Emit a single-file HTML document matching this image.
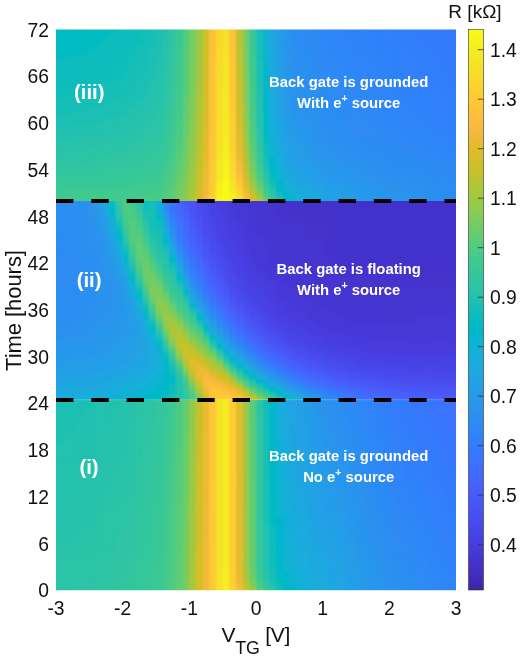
<!DOCTYPE html><html><head><meta charset="utf-8"><title>Figure</title><style>html,body{margin:0;padding:0;background:#fff}body{width:520px;height:658px;overflow:hidden}</style></head><body><svg width="520" height="658" viewBox="0 0 520 658" style="display:block"><defs><linearGradient id="g0" gradientUnits="userSpaceOnUse" x1="0" y1="29.5" x2="0" y2="590.0"><stop offset="0" stop-color="#02bac4"/><stop offset=".0997" stop-color="#0bbdbc"/><stop offset=".1905" stop-color="#23c1af"/><stop offset=".2546" stop-color="#31c69f"/><stop offset=".2795" stop-color="#38c897"/><stop offset=".3062" stop-color="#43ca8a"/><stop offset=".3062" stop-color="#2c8ef2"/><stop offset=".4415" stop-color="#2d8bf3"/><stop offset=".5305" stop-color="#2c8ff0"/><stop offset=".5768" stop-color="#2896ec"/><stop offset=".6195" stop-color="#23a0e5"/><stop offset=".6444" stop-color="#1ca9df"/><stop offset=".6604" stop-color="#14b0d8"/><stop offset=".6604" stop-color="#1cc0b3"/><stop offset="1" stop-color="#2cc4a7"/></linearGradient><linearGradient id="g1" gradientUnits="userSpaceOnUse" x1="0" y1="29.5" x2="0" y2="590.0"><stop offset="0" stop-color="#02bac4"/><stop offset=".0961" stop-color="#0bbdbc"/><stop offset=".1905" stop-color="#23c1af"/><stop offset=".2546" stop-color="#32c69f"/><stop offset=".2778" stop-color="#37c897"/><stop offset=".3062" stop-color="#43ca8a"/><stop offset=".3062" stop-color="#2c8ef1"/><stop offset=".4415" stop-color="#2d8cf3"/><stop offset=".5305" stop-color="#2c90f0"/><stop offset=".575" stop-color="#2896eb"/><stop offset=".6177" stop-color="#23a0e5"/><stop offset=".6444" stop-color="#1ca9df"/><stop offset=".6604" stop-color="#14b0d8"/><stop offset=".6604" stop-color="#1dc0b3"/><stop offset="1" stop-color="#2cc4a7"/></linearGradient><linearGradient id="g2" gradientUnits="userSpaceOnUse" x1="0" y1="29.5" x2="0" y2="590.0"><stop offset="0" stop-color="#02bac4"/><stop offset=".0926" stop-color="#0bbdbd"/><stop offset=".1905" stop-color="#24c1af"/><stop offset=".2528" stop-color="#31c6a0"/><stop offset=".2778" stop-color="#37c897"/><stop offset=".3062" stop-color="#44ca8a"/><stop offset=".3062" stop-color="#2c8ff1"/><stop offset=".4397" stop-color="#2d8cf3"/><stop offset=".5287" stop-color="#2c90f0"/><stop offset=".5732" stop-color="#2896eb"/><stop offset=".6159" stop-color="#23a0e5"/><stop offset=".6426" stop-color="#1ca9df"/><stop offset=".6604" stop-color="#13b0d7"/><stop offset=".6604" stop-color="#1dc0b3"/><stop offset="1" stop-color="#2cc4a6"/></linearGradient><linearGradient id="g3" gradientUnits="userSpaceOnUse" x1="0" y1="29.5" x2="0" y2="590.0"><stop offset="0" stop-color="#02bac3"/><stop offset=".089" stop-color="#0bbdbd"/><stop offset=".1887" stop-color="#24c1af"/><stop offset=".2528" stop-color="#31c69f"/><stop offset=".2778" stop-color="#37c897"/><stop offset=".3062" stop-color="#44cb8a"/><stop offset=".3062" stop-color="#2c90f0"/><stop offset=".4397" stop-color="#2d8df2"/><stop offset=".5287" stop-color="#2b91ef"/><stop offset=".5768" stop-color="#2797eb"/><stop offset=".6159" stop-color="#23a0e5"/><stop offset=".6444" stop-color="#1baade"/><stop offset=".6604" stop-color="#12b1d7"/><stop offset=".6604" stop-color="#1ec0b2"/><stop offset="1" stop-color="#2dc4a6"/></linearGradient><linearGradient id="g4" gradientUnits="userSpaceOnUse" x1="0" y1="29.5" x2="0" y2="590.0"><stop offset="0" stop-color="#02bbc3"/><stop offset=".0855" stop-color="#0bbdbc"/><stop offset=".1887" stop-color="#24c1ae"/><stop offset=".2528" stop-color="#32c69f"/><stop offset=".2778" stop-color="#38c896"/><stop offset=".3062" stop-color="#44cb8a"/><stop offset=".3062" stop-color="#2b91ef"/><stop offset=".4344" stop-color="#2c8ef2"/><stop offset=".5269" stop-color="#2b91ef"/><stop offset=".575" stop-color="#2797ea"/><stop offset=".6141" stop-color="#23a0e5"/><stop offset=".6444" stop-color="#1babde"/><stop offset=".6604" stop-color="#12b1d6"/><stop offset=".6604" stop-color="#1fc0b2"/><stop offset="1" stop-color="#2dc4a5"/></linearGradient><linearGradient id="g5" gradientUnits="userSpaceOnUse" x1="0" y1="29.5" x2="0" y2="590.0"><stop offset="0" stop-color="#03bbc2"/><stop offset=".0819" stop-color="#0bbdbc"/><stop offset=".187" stop-color="#24c1ae"/><stop offset=".2511" stop-color="#31c69f"/><stop offset=".276" stop-color="#37c897"/><stop offset=".3062" stop-color="#44cb89"/><stop offset=".3062" stop-color="#2994ec"/><stop offset=".4166" stop-color="#2c8ff1"/><stop offset=".5234" stop-color="#2b91ef"/><stop offset=".5714" stop-color="#2797ea"/><stop offset=".6124" stop-color="#23a0e5"/><stop offset=".6462" stop-color="#1aacdd"/><stop offset=".6604" stop-color="#10b2d5"/><stop offset=".6604" stop-color="#1fc0b1"/><stop offset="1" stop-color="#2dc4a5"/></linearGradient><linearGradient id="g6" gradientUnits="userSpaceOnUse" x1="0" y1="29.5" x2="0" y2="590.0"><stop offset="0" stop-color="#04bbc2"/><stop offset=".0748" stop-color="#0bbdbc"/><stop offset=".1852" stop-color="#24c1ae"/><stop offset=".2511" stop-color="#32c69f"/><stop offset=".276" stop-color="#37c897"/><stop offset=".3062" stop-color="#44cb89"/><stop offset=".3062" stop-color="#259ce7"/><stop offset=".3917" stop-color="#2b91ef"/><stop offset=".5091" stop-color="#2b91ef"/><stop offset=".5643" stop-color="#2797eb"/><stop offset=".6088" stop-color="#23a0e5"/><stop offset=".648" stop-color="#18addb"/><stop offset=".6604" stop-color="#0fb2d5"/><stop offset=".6604" stop-color="#20c1b1"/><stop offset="1" stop-color="#2ec4a4"/></linearGradient><linearGradient id="g7" gradientUnits="userSpaceOnUse" x1="0" y1="29.5" x2="0" y2="590.0"><stop offset="0" stop-color="#05bbc1"/><stop offset=".0748" stop-color="#0dbdbc"/><stop offset=".1852" stop-color="#25c2ae"/><stop offset=".2742" stop-color="#37c897"/><stop offset=".3062" stop-color="#44cb8a"/><stop offset=".3062" stop-color="#1aacdd"/><stop offset=".3401" stop-color="#23a0e5"/><stop offset=".3846" stop-color="#2896ec"/><stop offset=".4771" stop-color="#2b91ef"/><stop offset=".5465" stop-color="#2895ec"/><stop offset=".6052" stop-color="#23a0e5"/><stop offset=".6462" stop-color="#18addb"/><stop offset=".6604" stop-color="#0db3d4"/><stop offset=".6604" stop-color="#22c1b0"/><stop offset="1" stop-color="#2fc5a3"/></linearGradient><linearGradient id="g8" gradientUnits="userSpaceOnUse" x1="0" y1="29.5" x2="0" y2="590.0"><stop offset="0" stop-color="#06bcc0"/><stop offset=".0748" stop-color="#0ebdbb"/><stop offset=".187" stop-color="#26c2ad"/><stop offset=".2742" stop-color="#37c897"/><stop offset=".3062" stop-color="#44cb8a"/><stop offset=".3062" stop-color="#0abdbd"/><stop offset=".3134" stop-color="#02bbc3"/><stop offset=".3223" stop-color="#01b8c9"/><stop offset=".3436" stop-color="#14b0d8"/><stop offset=".3596" stop-color="#1ca9df"/><stop offset=".4006" stop-color="#269be8"/><stop offset=".4415" stop-color="#2994ed"/><stop offset=".5252" stop-color="#2995ec"/><stop offset=".6017" stop-color="#23a0e5"/><stop offset=".6444" stop-color="#18addb"/><stop offset=".6604" stop-color="#0bb3d2"/><stop offset=".6604" stop-color="#23c1af"/><stop offset="1" stop-color="#2fc5a2"/></linearGradient><linearGradient id="g9" gradientUnits="userSpaceOnUse" x1="0" y1="29.5" x2="0" y2="590.0"><stop offset="0" stop-color="#07bcbf"/><stop offset=".0748" stop-color="#0fbeba"/><stop offset=".187" stop-color="#26c2ac"/><stop offset=".2724" stop-color="#37c897"/><stop offset=".3062" stop-color="#44cb8a"/><stop offset=".3062" stop-color="#38c896"/><stop offset=".3294" stop-color="#2cc4a7"/><stop offset=".3383" stop-color="#24c1af"/><stop offset=".3614" stop-color="#02bac3"/><stop offset=".3685" stop-color="#01b8ca"/><stop offset=".3846" stop-color="#12b1d6"/><stop offset=".4006" stop-color="#1ca9df"/><stop offset=".4219" stop-color="#23a0e5"/><stop offset=".4433" stop-color="#269ae9"/><stop offset=".4735" stop-color="#2895ec"/><stop offset=".5109" stop-color="#2895ec"/><stop offset=".5963" stop-color="#23a0e5"/><stop offset=".6408" stop-color="#19addc"/><stop offset=".6515" stop-color="#12b1d7"/><stop offset=".6604" stop-color="#09b4d1"/><stop offset=".6604" stop-color="#24c1ae"/><stop offset="1" stop-color="#30c5a2"/></linearGradient><linearGradient id="g10" gradientUnits="userSpaceOnUse" x1="0" y1="29.5" x2="0" y2="590.0"><stop offset="0" stop-color="#08bcbf"/><stop offset=".0748" stop-color="#11beba"/><stop offset=".187" stop-color="#27c2ac"/><stop offset=".2724" stop-color="#37c897"/><stop offset=".3062" stop-color="#44cb8a"/><stop offset=".3062" stop-color="#4dcc82"/><stop offset=".3223" stop-color="#4ecc81"/><stop offset=".3383" stop-color="#47cb87"/><stop offset=".3543" stop-color="#3bc992"/><stop offset=".3757" stop-color="#2cc4a7"/><stop offset=".3828" stop-color="#24c1ae"/><stop offset=".397" stop-color="#0abdbd"/><stop offset=".4041" stop-color="#02bac5"/><stop offset=".4095" stop-color="#01b7ca"/><stop offset=".4291" stop-color="#18aedb"/><stop offset=".4486" stop-color="#20a4e3"/><stop offset=".4753" stop-color="#259be8"/><stop offset=".5056" stop-color="#2798ea"/><stop offset=".5465" stop-color="#269ae9"/><stop offset=".591" stop-color="#23a0e5"/><stop offset=".6391" stop-color="#18addb"/><stop offset=".6497" stop-color="#12b1d6"/><stop offset=".6604" stop-color="#07b5cf"/><stop offset=".6604" stop-color="#25c2ad"/><stop offset="1" stop-color="#31c5a1"/></linearGradient><linearGradient id="g11" gradientUnits="userSpaceOnUse" x1="0" y1="29.5" x2="0" y2="590.0"><stop offset="0" stop-color="#0bbdbd"/><stop offset=".1033" stop-color="#19bfb5"/><stop offset=".1887" stop-color="#29c3aa"/><stop offset=".2689" stop-color="#37c897"/><stop offset=".3062" stop-color="#46cb88"/><stop offset=".3062" stop-color="#3eca8f"/><stop offset=".349" stop-color="#56cc7b"/><stop offset=".3614" stop-color="#58cc7a"/><stop offset=".3739" stop-color="#54cc7d"/><stop offset=".3917" stop-color="#43ca8a"/><stop offset=".4166" stop-color="#2bc3a8"/><stop offset=".4219" stop-color="#24c1ae"/><stop offset=".4344" stop-color="#0abdbe"/><stop offset=".4397" stop-color="#02bac4"/><stop offset=".4451" stop-color="#01b8ca"/><stop offset=".4646" stop-color="#19addc"/><stop offset=".4878" stop-color="#22a2e4"/><stop offset=".5091" stop-color="#259ce7"/><stop offset=".5341" stop-color="#259be8"/><stop offset=".6017" stop-color="#20a4e3"/><stop offset=".6355" stop-color="#18aedb"/><stop offset=".6462" stop-color="#12b1d6"/><stop offset=".6604" stop-color="#05b6cd"/><stop offset=".6604" stop-color="#27c2ab"/><stop offset="1" stop-color="#32c69e"/></linearGradient><linearGradient id="g12" gradientUnits="userSpaceOnUse" x1="0" y1="29.5" x2="0" y2="590.0"><stop offset="0" stop-color="#0ebdbb"/><stop offset=".1051" stop-color="#1cc0b4"/><stop offset=".1905" stop-color="#2bc3a8"/><stop offset=".2635" stop-color="#37c897"/><stop offset=".3062" stop-color="#47cb87"/><stop offset=".3062" stop-color="#29c3aa"/><stop offset=".3436" stop-color="#3fca8e"/><stop offset=".3685" stop-color="#54cc7c"/><stop offset=".3863" stop-color="#5fcd73"/><stop offset=".4006" stop-color="#62cd71"/><stop offset=".4113" stop-color="#5dcc75"/><stop offset=".4219" stop-color="#52cc7e"/><stop offset=".4362" stop-color="#3dc990"/><stop offset=".4522" stop-color="#2bc3a8"/><stop offset=".4575" stop-color="#23c1af"/><stop offset=".4718" stop-color="#02bbc3"/><stop offset=".4771" stop-color="#01b8ca"/><stop offset=".4913" stop-color="#14b0d8"/><stop offset=".5038" stop-color="#1ca9df"/><stop offset=".5234" stop-color="#22a2e4"/><stop offset=".543" stop-color="#239fe5"/><stop offset=".6017" stop-color="#1fa6e1"/><stop offset=".6302" stop-color="#18aedb"/><stop offset=".6604" stop-color="#02b7cb"/><stop offset=".6604" stop-color="#29c3a9"/><stop offset="1" stop-color="#34c79c"/></linearGradient><linearGradient id="g13" gradientUnits="userSpaceOnUse" x1="0" y1="29.5" x2="0" y2="590.0"><stop offset="0" stop-color="#11beb9"/><stop offset=".1051" stop-color="#1ec0b2"/><stop offset=".1887" stop-color="#2cc4a7"/><stop offset=".26" stop-color="#37c897"/><stop offset=".2867" stop-color="#3fca8e"/><stop offset=".3062" stop-color="#49cb86"/><stop offset=".3062" stop-color="#0cbdbc"/><stop offset=".3205" stop-color="#12beb9"/><stop offset=".3383" stop-color="#22c1b0"/><stop offset=".3757" stop-color="#3fca8e"/><stop offset=".4059" stop-color="#5fcd73"/><stop offset=".4219" stop-color="#6bcd69"/><stop offset=".4326" stop-color="#6ecd66"/><stop offset=".4433" stop-color="#69cd6a"/><stop offset=".454" stop-color="#5ccc76"/><stop offset=".47" stop-color="#3eca8f"/><stop offset=".4878" stop-color="#25c2ad"/><stop offset=".502" stop-color="#02bbc3"/><stop offset=".5074" stop-color="#01b8ca"/><stop offset=".5198" stop-color="#12b1d7"/><stop offset=".5323" stop-color="#1babde"/><stop offset=".5625" stop-color="#20a4e3"/><stop offset=".6052" stop-color="#1ca9df"/><stop offset=".6319" stop-color="#14b0d8"/><stop offset=".6604" stop-color="#01b8c8"/><stop offset=".6604" stop-color="#2cc4a7"/><stop offset="1" stop-color="#35c79a"/></linearGradient><linearGradient id="g14" gradientUnits="userSpaceOnUse" x1="0" y1="29.5" x2="0" y2="590.0"><stop offset="0" stop-color="#16bfb7"/><stop offset=".1051" stop-color="#22c1b0"/><stop offset=".1852" stop-color="#2dc4a6"/><stop offset=".2546" stop-color="#37c897"/><stop offset=".2831" stop-color="#3fca8e"/><stop offset=".3062" stop-color="#4acb85"/><stop offset=".3062" stop-color="#10beba"/><stop offset=".3205" stop-color="#15bfb7"/><stop offset=".3525" stop-color="#18bfb6"/><stop offset=".3721" stop-color="#23c1af"/><stop offset=".3863" stop-color="#2ec5a4"/><stop offset=".4041" stop-color="#3eca8f"/><stop offset=".438" stop-color="#6bcd69"/><stop offset=".4522" stop-color="#79cc5f"/><stop offset=".4629" stop-color="#7dcc5b"/><stop offset=".4718" stop-color="#78cc5f"/><stop offset=".4807" stop-color="#6bcd69"/><stop offset=".5002" stop-color="#3fca8e"/><stop offset=".5163" stop-color="#26c2ad"/><stop offset=".5305" stop-color="#02bbc3"/><stop offset=".5358" stop-color="#01b8ca"/><stop offset=".5519" stop-color="#14b0d8"/><stop offset=".5625" stop-color="#19acdc"/><stop offset=".5803" stop-color="#1caadf"/><stop offset=".607" stop-color="#19addc"/><stop offset=".623" stop-color="#14b0d8"/><stop offset=".6515" stop-color="#02b7ca"/><stop offset=".6604" stop-color="#02bac5"/><stop offset=".6604" stop-color="#2ec4a4"/><stop offset="1" stop-color="#38c896"/></linearGradient><linearGradient id="g15" gradientUnits="userSpaceOnUse" x1="0" y1="29.5" x2="0" y2="590.0"><stop offset="0" stop-color="#1ac0b5"/><stop offset=".1015" stop-color="#24c2ae"/><stop offset=".187" stop-color="#2ec5a4"/><stop offset=".2511" stop-color="#38c896"/><stop offset=".2795" stop-color="#3fca8e"/><stop offset=".3062" stop-color="#4bcb84"/><stop offset=".3062" stop-color="#1da8e0"/><stop offset=".3134" stop-color="#18addb"/><stop offset=".3294" stop-color="#03b7cb"/><stop offset=".3365" stop-color="#02bac5"/><stop offset=".3596" stop-color="#19bfb5"/><stop offset=".4059" stop-color="#29c3aa"/><stop offset=".4166" stop-color="#30c5a1"/><stop offset=".4273" stop-color="#39c995"/><stop offset=".4557" stop-color="#69cd6b"/><stop offset=".4682" stop-color="#7ccc5c"/><stop offset=".4789" stop-color="#87cb54"/><stop offset=".4878" stop-color="#8dcb50"/><stop offset=".4967" stop-color="#89cb52"/><stop offset=".5056" stop-color="#7ccc5c"/><stop offset=".5145" stop-color="#66cd6d"/><stop offset=".5287" stop-color="#3fca8e"/><stop offset=".543" stop-color="#27c2ac"/><stop offset=".5536" stop-color="#0abdbd"/><stop offset=".559" stop-color="#02bac4"/><stop offset=".5643" stop-color="#01b8ca"/><stop offset=".5785" stop-color="#0eb2d4"/><stop offset=".5874" stop-color="#13b1d7"/><stop offset=".5999" stop-color="#14b0d8"/><stop offset=".6141" stop-color="#11b1d6"/><stop offset=".6444" stop-color="#01b8ca"/><stop offset=".6551" stop-color="#02bac4"/><stop offset=".6604" stop-color="#06bcc0"/><stop offset=".6604" stop-color="#30c5a1"/><stop offset="1" stop-color="#3bc992"/></linearGradient><linearGradient id="g16" gradientUnits="userSpaceOnUse" x1="0" y1="29.5" x2="0" y2="590.0"><stop offset="0" stop-color="#23c1af"/><stop offset=".1211" stop-color="#2dc4a6"/><stop offset=".2172" stop-color="#37c897"/><stop offset=".2546" stop-color="#3fca8e"/><stop offset=".3062" stop-color="#56cc7b"/><stop offset=".3062" stop-color="#2e85f8"/><stop offset=".3258" stop-color="#2b91ef"/><stop offset=".3454" stop-color="#22a1e4"/><stop offset=".3596" stop-color="#18aedb"/><stop offset=".3739" stop-color="#01b8ca"/><stop offset=".3792" stop-color="#02bac4"/><stop offset=".3935" stop-color="#19bfb6"/><stop offset=".4024" stop-color="#21c1b0"/><stop offset=".4344" stop-color="#2ec4a4"/><stop offset=".4504" stop-color="#38c896"/><stop offset=".4575" stop-color="#42ca8b"/><stop offset=".4789" stop-color="#70cd65"/><stop offset=".4913" stop-color="#87cb54"/><stop offset=".502" stop-color="#95ca49"/><stop offset=".5127" stop-color="#9dc943"/><stop offset=".5198" stop-color="#9bc945"/><stop offset=".5287" stop-color="#8ecb4f"/><stop offset=".5394" stop-color="#70cd65"/><stop offset=".5554" stop-color="#3dca90"/><stop offset=".5697" stop-color="#25c2ad"/><stop offset=".5803" stop-color="#0bbdbd"/><stop offset=".5857" stop-color="#03bbc3"/><stop offset=".5999" stop-color="#03b7cc"/><stop offset=".6159" stop-color="#05b6ce"/><stop offset=".6319" stop-color="#01b8ca"/><stop offset=".6462" stop-color="#02bac3"/><stop offset=".6604" stop-color="#0fbebb"/><stop offset=".6604" stop-color="#35c79a"/><stop offset="1" stop-color="#43ca8b"/></linearGradient><linearGradient id="g17" gradientUnits="userSpaceOnUse" x1="0" y1="29.5" x2="0" y2="590.0"><stop offset="0" stop-color="#2ec4a4"/><stop offset=".1157" stop-color="#34c79c"/><stop offset=".2065" stop-color="#3fca8e"/><stop offset=".2511" stop-color="#4bcb84"/><stop offset=".3062" stop-color="#63cd70"/><stop offset=".3062" stop-color="#3c71ff"/><stop offset=".3312" stop-color="#327cfc"/><stop offset=".3507" stop-color="#2e86f7"/><stop offset=".3668" stop-color="#2b91ef"/><stop offset=".3846" stop-color="#23a1e5"/><stop offset=".397" stop-color="#19addc"/><stop offset=".4095" stop-color="#02b7cb"/><stop offset=".413" stop-color="#01bac5"/><stop offset=".4148" stop-color="#03bbc3"/><stop offset=".4255" stop-color="#1ac0b5"/><stop offset=".4326" stop-color="#25c2ae"/><stop offset=".4415" stop-color="#2cc4a7"/><stop offset=".4646" stop-color="#35c79b"/><stop offset=".4771" stop-color="#40ca8d"/><stop offset=".4824" stop-color="#4acb84"/><stop offset=".4931" stop-color="#64cd6e"/><stop offset=".5109" stop-color="#90ca4d"/><stop offset=".5234" stop-color="#a4c83e"/><stop offset=".5341" stop-color="#aec637"/><stop offset=".543" stop-color="#abc739"/><stop offset=".5501" stop-color="#a0c841"/><stop offset=".5608" stop-color="#82cc58"/><stop offset=".575" stop-color="#4dcc82"/><stop offset=".5803" stop-color="#3dca90"/><stop offset=".5946" stop-color="#27c2ac"/><stop offset=".6106" stop-color="#0bbdbc"/><stop offset=".623" stop-color="#05bbc1"/><stop offset=".6355" stop-color="#07bcc0"/><stop offset=".6444" stop-color="#0bbdbd"/><stop offset=".6604" stop-color="#1bc0b4"/><stop offset=".6604" stop-color="#3dc990"/><stop offset="1" stop-color="#50cc80"/></linearGradient><linearGradient id="g18" gradientUnits="userSpaceOnUse" x1="0" y1="29.5" x2="0" y2="590.0"><stop offset="0" stop-color="#37c897"/><stop offset=".1086" stop-color="#3fca8e"/><stop offset=".1763" stop-color="#4acb84"/><stop offset=".2528" stop-color="#61cd72"/><stop offset=".3062" stop-color="#7acc5d"/><stop offset=".3062" stop-color="#4563fd"/><stop offset=".3329" stop-color="#406cfe"/><stop offset=".3543" stop-color="#3975fe"/><stop offset=".3685" stop-color="#327cfc"/><stop offset=".3863" stop-color="#2e86f7"/><stop offset=".4006" stop-color="#2b91ef"/><stop offset=".4202" stop-color="#21a3e3"/><stop offset=".4308" stop-color="#17aeda"/><stop offset=".4397" stop-color="#03b7cc"/><stop offset=".4433" stop-color="#01b9c6"/><stop offset=".4486" stop-color="#0bbdbc"/><stop offset=".4575" stop-color="#24c1af"/><stop offset=".4629" stop-color="#2bc3a8"/><stop offset=".4913" stop-color="#3eca8f"/><stop offset=".5002" stop-color="#4acb85"/><stop offset=".5091" stop-color="#5ecd74"/><stop offset=".5234" stop-color="#89cb52"/><stop offset=".5323" stop-color="#9fc941"/><stop offset=".5447" stop-color="#b5c533"/><stop offset=".5554" stop-color="#bfc32d"/><stop offset=".5643" stop-color="#bcc42f"/><stop offset=".5732" stop-color="#abc739"/><stop offset=".5821" stop-color="#8fcb4e"/><stop offset=".5999" stop-color="#4bcb84"/><stop offset=".6035" stop-color="#40ca8d"/><stop offset=".6088" stop-color="#36c898"/><stop offset=".6195" stop-color="#2bc3a8"/><stop offset=".6319" stop-color="#21c1b0"/><stop offset=".6444" stop-color="#20c1b1"/><stop offset=".6604" stop-color="#28c3ab"/><stop offset=".6604" stop-color="#4ccb83"/><stop offset="1" stop-color="#62cd71"/></linearGradient><linearGradient id="g19" gradientUnits="userSpaceOnUse" x1="0" y1="29.5" x2="0" y2="590.0"><stop offset="0" stop-color="#4ecc81"/><stop offset=".0961" stop-color="#57cc7a"/><stop offset=".1781" stop-color="#64cd6f"/><stop offset=".2404" stop-color="#75cc61"/><stop offset=".3062" stop-color="#90ca4d"/><stop offset=".3062" stop-color="#4759f8"/><stop offset=".3614" stop-color="#4269fe"/><stop offset=".3881" stop-color="#3875fe"/><stop offset=".4095" stop-color="#2f82fa"/><stop offset=".4308" stop-color="#2b91ef"/><stop offset=".4468" stop-color="#23a1e5"/><stop offset=".4575" stop-color="#19addc"/><stop offset=".4664" stop-color="#04b6cd"/><stop offset=".47" stop-color="#01b9c6"/><stop offset=".4718" stop-color="#03bbc2"/><stop offset=".4807" stop-color="#21c1b1"/><stop offset=".486" stop-color="#2cc4a7"/><stop offset=".4985" stop-color="#39c895"/><stop offset=".5127" stop-color="#49cb85"/><stop offset=".5234" stop-color="#5bcc77"/><stop offset=".5305" stop-color="#6dcd68"/><stop offset=".5447" stop-color="#9bc944"/><stop offset=".5519" stop-color="#aec637"/><stop offset=".5643" stop-color="#c6c22a"/><stop offset=".5768" stop-color="#d1bf27"/><stop offset=".5821" stop-color="#cfc028"/><stop offset=".5874" stop-color="#c8c129"/><stop offset=".5963" stop-color="#b2c635"/><stop offset=".6017" stop-color="#9fc941"/><stop offset=".6159" stop-color="#66cd6d"/><stop offset=".623" stop-color="#4fcc81"/><stop offset=".6284" stop-color="#42ca8c"/><stop offset=".6355" stop-color="#38c896"/><stop offset=".6426" stop-color="#34c79c"/><stop offset=".6515" stop-color="#32c69e"/><stop offset=".6604" stop-color="#33c69d"/><stop offset=".6604" stop-color="#61cd71"/><stop offset="1" stop-color="#79cc5e"/></linearGradient><linearGradient id="g20" gradientUnits="userSpaceOnUse" x1="0" y1="29.5" x2="0" y2="590.0"><stop offset="0" stop-color="#73cd63"/><stop offset=".0926" stop-color="#7bcc5c"/><stop offset=".1745" stop-color="#88cb53"/><stop offset=".2439" stop-color="#98ca47"/><stop offset=".3062" stop-color="#acc738"/><stop offset=".3062" stop-color="#4851f3"/><stop offset=".3543" stop-color="#475bf9"/><stop offset=".3917" stop-color="#4368fe"/><stop offset=".4059" stop-color="#3e6fff"/><stop offset=".4273" stop-color="#327cfc"/><stop offset=".4433" stop-color="#2e87f7"/><stop offset=".4557" stop-color="#2b91ef"/><stop offset=".4718" stop-color="#23a1e5"/><stop offset=".4824" stop-color="#18addb"/><stop offset=".4913" stop-color="#02b7cb"/><stop offset=".4949" stop-color="#02bac3"/><stop offset=".5038" stop-color="#24c1af"/><stop offset=".5074" stop-color="#2cc4a7"/><stop offset=".5216" stop-color="#43ca8a"/><stop offset=".5447" stop-color="#6fcd66"/><stop offset=".5519" stop-color="#83cc57"/><stop offset=".5625" stop-color="#a8c73b"/><stop offset=".5679" stop-color="#b8c431"/><stop offset=".5732" stop-color="#c5c22a"/><stop offset=".5821" stop-color="#d5be28"/><stop offset=".591" stop-color="#dfbc2a"/><stop offset=".5963" stop-color="#e1bc2b"/><stop offset=".6052" stop-color="#d9bd28"/><stop offset=".6141" stop-color="#c5c22a"/><stop offset=".6213" stop-color="#adc638"/><stop offset=".6355" stop-color="#76cc60"/><stop offset=".6408" stop-color="#66cd6e"/><stop offset=".6497" stop-color="#53cc7d"/><stop offset=".6604" stop-color="#49cb85"/><stop offset=".6604" stop-color="#91ca4c"/><stop offset="1" stop-color="#a9c73a"/></linearGradient><linearGradient id="g21" gradientUnits="userSpaceOnUse" x1="0" y1="29.5" x2="0" y2="590.0"><stop offset="0" stop-color="#9bc944"/><stop offset=".0908" stop-color="#a4c83e"/><stop offset=".1691" stop-color="#b1c635"/><stop offset=".2511" stop-color="#c6c22a"/><stop offset=".3062" stop-color="#d8be28"/><stop offset=".3062" stop-color="#484aee"/><stop offset=".3632" stop-color="#4755f6"/><stop offset=".4077" stop-color="#4563fc"/><stop offset=".4273" stop-color="#406cfe"/><stop offset=".4433" stop-color="#3776fe"/><stop offset=".4522" stop-color="#327dfc"/><stop offset=".4664" stop-color="#2d87f6"/><stop offset=".4771" stop-color="#2b91ef"/><stop offset=".4931" stop-color="#23a0e5"/><stop offset=".5038" stop-color="#19addc"/><stop offset=".5127" stop-color="#02b7cb"/><stop offset=".5145" stop-color="#01b9c7"/><stop offset=".5163" stop-color="#02bbc3"/><stop offset=".518" stop-color="#09bcbe"/><stop offset=".5252" stop-color="#27c2ac"/><stop offset=".5358" stop-color="#3eca8f"/><stop offset=".5447" stop-color="#58cc79"/><stop offset=".5661" stop-color="#8acb51"/><stop offset=".5768" stop-color="#adc638"/><stop offset=".5839" stop-color="#c4c22a"/><stop offset=".5892" stop-color="#d2bf27"/><stop offset=".5981" stop-color="#e3bc2c"/><stop offset=".607" stop-color="#edba33"/><stop offset=".6124" stop-color="#f0ba36"/><stop offset=".6177" stop-color="#eeba34"/><stop offset=".623" stop-color="#e8bb2f"/><stop offset=".6302" stop-color="#dabd28"/><stop offset=".6355" stop-color="#cbc129"/><stop offset=".6408" stop-color="#b9c430"/><stop offset=".6515" stop-color="#96ca49"/><stop offset=".6604" stop-color="#7fcc5a"/><stop offset=".6604" stop-color="#c8c129"/><stop offset="1" stop-color="#d8be28"/></linearGradient><linearGradient id="g22" gradientUnits="userSpaceOnUse" x1="0" y1="29.5" x2="0" y2="590.0"><stop offset="0" stop-color="#cfc028"/><stop offset=".1033" stop-color="#d6be28"/><stop offset=".1887" stop-color="#e0bc2a"/><stop offset=".2297" stop-color="#e6bb2d"/><stop offset=".3062" stop-color="#f6ba3b"/><stop offset=".3062" stop-color="#4745e9"/><stop offset=".3579" stop-color="#484cf0"/><stop offset=".4024" stop-color="#4757f7"/><stop offset=".4451" stop-color="#4369fe"/><stop offset=".4646" stop-color="#3875fe"/><stop offset=".4735" stop-color="#327dfc"/><stop offset=".486" stop-color="#2e87f7"/><stop offset=".4967" stop-color="#2b91ef"/><stop offset=".5127" stop-color="#23a1e4"/><stop offset=".5234" stop-color="#18aedb"/><stop offset=".5323" stop-color="#01b8ca"/><stop offset=".5341" stop-color="#01bac5"/><stop offset=".5376" stop-color="#0cbdbc"/><stop offset=".543" stop-color="#25c2ad"/><stop offset=".5519" stop-color="#3dc991"/><stop offset=".5661" stop-color="#71cd64"/><stop offset=".5857" stop-color="#a6c83d"/><stop offset=".5928" stop-color="#bcc42f"/><stop offset=".5999" stop-color="#d3bf27"/><stop offset=".607" stop-color="#e5bb2d"/><stop offset=".6124" stop-color="#eeba34"/><stop offset=".6195" stop-color="#f7ba3c"/><stop offset=".6248" stop-color="#fbbc3d"/><stop offset=".6373" stop-color="#f9bb3d"/><stop offset=".6444" stop-color="#efba35"/><stop offset=".6533" stop-color="#dabd28"/><stop offset=".6604" stop-color="#c7c12a"/><stop offset=".6604" stop-color="#e8bb2f"/><stop offset="1" stop-color="#f1ba37"/></linearGradient><linearGradient id="g23" gradientUnits="userSpaceOnUse" x1="0" y1="29.5" x2="0" y2="590.0"><stop offset="0" stop-color="#fec03b"/><stop offset=".2119" stop-color="#fec537"/><stop offset=".3062" stop-color="#fccf31"/><stop offset=".3062" stop-color="#4740e4"/><stop offset=".3685" stop-color="#4848ec"/><stop offset=".4166" stop-color="#4853f5"/><stop offset=".4575" stop-color="#4563fd"/><stop offset=".4718" stop-color="#406cfe"/><stop offset=".4842" stop-color="#3875fe"/><stop offset=".4931" stop-color="#317dfc"/><stop offset=".5038" stop-color="#2e86f7"/><stop offset=".5145" stop-color="#2b91ef"/><stop offset=".5358" stop-color="#1da9e0"/><stop offset=".543" stop-color="#12b1d6"/><stop offset=".5483" stop-color="#03b7cc"/><stop offset=".5519" stop-color="#02bbc3"/><stop offset=".559" stop-color="#23c1af"/><stop offset=".5679" stop-color="#3dc990"/><stop offset=".5785" stop-color="#70cd65"/><stop offset=".5839" stop-color="#88cb53"/><stop offset=".5928" stop-color="#a4c83e"/><stop offset=".6052" stop-color="#c5c22a"/><stop offset=".6124" stop-color="#d9bd28"/><stop offset=".6195" stop-color="#edba33"/><stop offset=".6248" stop-color="#f7ba3c"/><stop offset=".6302" stop-color="#fdbd3d"/><stop offset=".6444" stop-color="#fec636"/><stop offset=".6515" stop-color="#fec438"/><stop offset=".6604" stop-color="#fcbc3d"/><stop offset=".6604" stop-color="#fec537"/><stop offset="1" stop-color="#fec934"/></linearGradient><linearGradient id="g24" gradientUnits="userSpaceOnUse" x1="0" y1="29.5" x2="0" y2="590.0"><stop offset="0" stop-color="#f9d82c"/><stop offset=".2083" stop-color="#f5e228"/><stop offset=".2671" stop-color="#f5ea24"/><stop offset=".3062" stop-color="#f7f61a"/><stop offset=".3062" stop-color="#463de0"/><stop offset=".3757" stop-color="#4744e9"/><stop offset=".4291" stop-color="#4850f2"/><stop offset=".4771" stop-color="#4563fd"/><stop offset=".4913" stop-color="#406cfe"/><stop offset=".502" stop-color="#3875fe"/><stop offset=".5091" stop-color="#327cfc"/><stop offset=".5198" stop-color="#2e86f7"/><stop offset=".5305" stop-color="#2b91ef"/><stop offset=".5447" stop-color="#22a1e4"/><stop offset=".5554" stop-color="#17aeda"/><stop offset=".5625" stop-color="#04b6cd"/><stop offset=".5661" stop-color="#02bac5"/><stop offset=".5697" stop-color="#0dbdbc"/><stop offset=".575" stop-color="#27c2ac"/><stop offset=".5821" stop-color="#3cc992"/><stop offset=".5892" stop-color="#62cd71"/><stop offset=".5946" stop-color="#81cc58"/><stop offset=".5999" stop-color="#9cc943"/><stop offset=".6035" stop-color="#abc739"/><stop offset=".6088" stop-color="#bcc42f"/><stop offset=".6159" stop-color="#cec028"/><stop offset=".6213" stop-color="#dabd28"/><stop offset=".6266" stop-color="#e8bb2e"/><stop offset=".6337" stop-color="#f9bb3d"/><stop offset=".6373" stop-color="#febe3c"/><stop offset=".6515" stop-color="#fdcd31"/><stop offset=".6604" stop-color="#fbd12f"/><stop offset=".6604" stop-color="#f5e228"/><stop offset="1" stop-color="#f5e427"/></linearGradient><linearGradient id="g25" gradientUnits="userSpaceOnUse" x1="0" y1="29.5" x2="0" y2="590.0"><stop offset="0" stop-color="#f5e227"/><stop offset=".1834" stop-color="#f5ec22"/><stop offset=".2422" stop-color="#f7f31d"/><stop offset=".276" stop-color="#f9fb15"/><stop offset=".3062" stop-color="#f9fb15"/><stop offset=".3062" stop-color="#463bdc"/><stop offset=".3828" stop-color="#4741e5"/><stop offset=".4397" stop-color="#484cf0"/><stop offset=".47" stop-color="#4757f7"/><stop offset=".4949" stop-color="#4563fd"/><stop offset=".5074" stop-color="#406cfe"/><stop offset=".518" stop-color="#3975fe"/><stop offset=".5252" stop-color="#327cfc"/><stop offset=".5358" stop-color="#2e87f7"/><stop offset=".5447" stop-color="#2b91ef"/><stop offset=".559" stop-color="#22a2e4"/><stop offset=".5679" stop-color="#18addb"/><stop offset=".5768" stop-color="#02b7cb"/><stop offset=".5785" stop-color="#01b9c7"/><stop offset=".5803" stop-color="#03bbc2"/><stop offset=".5821" stop-color="#09bdbe"/><stop offset=".5892" stop-color="#29c3a9"/><stop offset=".5963" stop-color="#3eca8f"/><stop offset=".6035" stop-color="#69cd6a"/><stop offset=".6106" stop-color="#99c946"/><stop offset=".6141" stop-color="#adc638"/><stop offset=".6195" stop-color="#c4c22b"/><stop offset=".623" stop-color="#d0c028"/><stop offset=".6284" stop-color="#ddbd29"/><stop offset=".6337" stop-color="#e8bb2f"/><stop offset=".6408" stop-color="#f7ba3c"/><stop offset=".6444" stop-color="#fdbd3d"/><stop offset=".6515" stop-color="#fec835"/><stop offset=".6604" stop-color="#fad42e"/><stop offset=".6604" stop-color="#f5ed21"/><stop offset=".9553" stop-color="#f5ed21"/><stop offset="1" stop-color="#f6f11f"/></linearGradient><linearGradient id="g26" gradientUnits="userSpaceOnUse" x1="0" y1="29.5" x2="0" y2="590.0"><stop offset="0" stop-color="#fec339"/><stop offset=".1282" stop-color="#fec934"/><stop offset=".2119" stop-color="#fbd22f"/><stop offset=".2671" stop-color="#f6e028"/><stop offset=".2884" stop-color="#f5e924"/><stop offset=".3062" stop-color="#f7f51b"/><stop offset=".3062" stop-color="#4539d9"/><stop offset=".3899" stop-color="#473fe2"/><stop offset=".4504" stop-color="#4849ed"/><stop offset=".4842" stop-color="#4755f6"/><stop offset=".5109" stop-color="#4563fd"/><stop offset=".5216" stop-color="#416bfe"/><stop offset=".5323" stop-color="#3975fe"/><stop offset=".5394" stop-color="#327cfc"/><stop offset=".5483" stop-color="#2e86f7"/><stop offset=".5572" stop-color="#2b90f0"/><stop offset=".5714" stop-color="#22a2e4"/><stop offset=".5803" stop-color="#17aedb"/><stop offset=".5874" stop-color="#04b6cd"/><stop offset=".591" stop-color="#02bac5"/><stop offset=".5946" stop-color="#0cbdbc"/><stop offset=".5999" stop-color="#25c2ad"/><stop offset=".6088" stop-color="#40ca8d"/><stop offset=".6141" stop-color="#60cd72"/><stop offset=".623" stop-color="#a0c841"/><stop offset=".6284" stop-color="#c1c32c"/><stop offset=".6319" stop-color="#d1bf27"/><stop offset=".6337" stop-color="#d8be28"/><stop offset=".6391" stop-color="#e8bb2f"/><stop offset=".6444" stop-color="#f4ba39"/><stop offset=".6462" stop-color="#f7ba3c"/><stop offset=".6515" stop-color="#febe3c"/><stop offset=".6604" stop-color="#fdcc32"/><stop offset=".6604" stop-color="#fdcd32"/><stop offset=".9553" stop-color="#fcce31"/><stop offset=".9839" stop-color="#fcd030"/><stop offset="1" stop-color="#fad52d"/></linearGradient><linearGradient id="g27" gradientUnits="userSpaceOnUse" x1="0" y1="29.5" x2="0" y2="590.0"><stop offset="0" stop-color="#b8c431"/><stop offset=".0997" stop-color="#c8c129"/><stop offset=".1781" stop-color="#dcbd29"/><stop offset=".2083" stop-color="#e7bb2e"/><stop offset=".2457" stop-color="#f8ba3d"/><stop offset=".26" stop-color="#febe3c"/><stop offset=".2778" stop-color="#fec834"/><stop offset=".292" stop-color="#fad52e"/><stop offset=".3062" stop-color="#f5e626"/><stop offset=".3062" stop-color="#4537d6"/><stop offset=".4255" stop-color="#4740e4"/><stop offset=".4646" stop-color="#4848ec"/><stop offset=".4985" stop-color="#4854f5"/><stop offset=".5323" stop-color="#4368fe"/><stop offset=".5447" stop-color="#3a74fe"/><stop offset=".5554" stop-color="#3080fa"/><stop offset=".5697" stop-color="#2b91ef"/><stop offset=".5821" stop-color="#22a1e4"/><stop offset=".591" stop-color="#18addb"/><stop offset=".5981" stop-color="#05b6cd"/><stop offset=".5999" stop-color="#01b8c9"/><stop offset=".6017" stop-color="#02bac5"/><stop offset=".6052" stop-color="#0cbdbc"/><stop offset=".6088" stop-color="#1ec0b2"/><stop offset=".6124" stop-color="#2bc3a7"/><stop offset=".6177" stop-color="#39c895"/><stop offset=".6213" stop-color="#49cb86"/><stop offset=".6266" stop-color="#6acd6a"/><stop offset=".6337" stop-color="#a0c941"/><stop offset=".6391" stop-color="#c4c22b"/><stop offset=".6408" stop-color="#cec028"/><stop offset=".6444" stop-color="#e0bc2a"/><stop offset=".6497" stop-color="#f2ba38"/><stop offset=".6533" stop-color="#fabb3d"/><stop offset=".6604" stop-color="#fec438"/><stop offset=".6604" stop-color="#e0bc2a"/><stop offset=".9535" stop-color="#e5bb2d"/><stop offset=".9821" stop-color="#ebba32"/><stop offset=".9964" stop-color="#f8ba3d"/><stop offset="1" stop-color="#fcbc3d"/></linearGradient><linearGradient id="g28" gradientUnits="userSpaceOnUse" x1="0" y1="29.5" x2="0" y2="590.0"><stop offset="0" stop-color="#72cd63"/><stop offset=".1175" stop-color="#85cb56"/><stop offset=".162" stop-color="#91ca4c"/><stop offset=".1976" stop-color="#9ec942"/><stop offset=".235" stop-color="#b4c533"/><stop offset=".2653" stop-color="#d0bf27"/><stop offset=".2813" stop-color="#e5bb2d"/><stop offset=".2956" stop-color="#f9bb3d"/><stop offset=".2991" stop-color="#febd3c"/><stop offset=".3062" stop-color="#fec735"/><stop offset=".3062" stop-color="#4536d4"/><stop offset=".4308" stop-color="#463ee1"/><stop offset=".4718" stop-color="#4745ea"/><stop offset=".5056" stop-color="#4851f3"/><stop offset=".5269" stop-color="#475cfa"/><stop offset=".5447" stop-color="#4368fe"/><stop offset=".5625" stop-color="#337bfd"/><stop offset=".5732" stop-color="#2d87f6"/><stop offset=".5803" stop-color="#2b91ef"/><stop offset=".5928" stop-color="#22a2e4"/><stop offset=".6017" stop-color="#17aeda"/><stop offset=".6088" stop-color="#03b7cb"/><stop offset=".6106" stop-color="#01b9c7"/><stop offset=".6124" stop-color="#03bbc3"/><stop offset=".6195" stop-color="#23c1af"/><stop offset=".6266" stop-color="#37c897"/><stop offset=".6302" stop-color="#45cb89"/><stop offset=".6373" stop-color="#70cd65"/><stop offset=".6444" stop-color="#a5c83d"/><stop offset=".648" stop-color="#bec32e"/><stop offset=".6497" stop-color="#cac129"/><stop offset=".6533" stop-color="#debc2a"/><stop offset=".6586" stop-color="#f6ba3b"/><stop offset=".6604" stop-color="#fbbc3d"/><stop offset=".6604" stop-color="#99c946"/><stop offset=".9535" stop-color="#a3c83f"/><stop offset=".9696" stop-color="#a8c73b"/><stop offset=".9821" stop-color="#b1c636"/><stop offset=".9911" stop-color="#bec32e"/><stop offset="1" stop-color="#d4bf28"/></linearGradient><linearGradient id="g29" gradientUnits="userSpaceOnUse" x1="0" y1="29.5" x2="0" y2="590.0"><stop offset="0" stop-color="#37c897"/><stop offset=".0926" stop-color="#3eca8f"/><stop offset=".1371" stop-color="#44cb8a"/><stop offset=".1816" stop-color="#4ecc81"/><stop offset=".2208" stop-color="#5fcd73"/><stop offset=".2457" stop-color="#72cd63"/><stop offset=".2671" stop-color="#8ecb4f"/><stop offset=".2795" stop-color="#a4c83e"/><stop offset=".2938" stop-color="#c5c22a"/><stop offset=".2991" stop-color="#d2bf27"/><stop offset=".3062" stop-color="#e6bb2d"/><stop offset=".3062" stop-color="#4535d2"/><stop offset=".3846" stop-color="#4538d7"/><stop offset=".4362" stop-color="#463cde"/><stop offset=".4789" stop-color="#4743e7"/><stop offset=".5145" stop-color="#484ff2"/><stop offset=".5501" stop-color="#4563fd"/><stop offset=".5625" stop-color="#3f6eff"/><stop offset=".5714" stop-color="#3578fd"/><stop offset=".5821" stop-color="#2e86f8"/><stop offset=".591" stop-color="#2b91ef"/><stop offset=".6035" stop-color="#21a3e3"/><stop offset=".6106" stop-color="#18aedb"/><stop offset=".6159" stop-color="#08b5d0"/><stop offset=".6195" stop-color="#01b9c8"/><stop offset=".6213" stop-color="#02bbc3"/><stop offset=".6284" stop-color="#24c1af"/><stop offset=".6355" stop-color="#38c896"/><stop offset=".6391" stop-color="#47cb87"/><stop offset=".6462" stop-color="#72cd63"/><stop offset=".6551" stop-color="#b2c635"/><stop offset=".6586" stop-color="#c9c129"/><stop offset=".6604" stop-color="#d4bf28"/><stop offset=".6604" stop-color="#58cc79"/><stop offset=".9553" stop-color="#64cd6e"/><stop offset=".9714" stop-color="#6acd6a"/><stop offset=".9821" stop-color="#72cd63"/><stop offset=".9929" stop-color="#85cb55"/><stop offset="1" stop-color="#9cc944"/></linearGradient><linearGradient id="g30" gradientUnits="userSpaceOnUse" x1="0" y1="29.5" x2="0" y2="590.0"><stop offset="0" stop-color="#13beb8"/><stop offset=".162" stop-color="#27c2ab"/><stop offset=".2101" stop-color="#30c5a1"/><stop offset=".2422" stop-color="#3ac994"/><stop offset=".2617" stop-color="#49cb85"/><stop offset=".2795" stop-color="#64cd6f"/><stop offset=".292" stop-color="#83cc57"/><stop offset=".3062" stop-color="#b2c635"/><stop offset=".3062" stop-color="#4435d0"/><stop offset=".4166" stop-color="#4538d8"/><stop offset=".4913" stop-color="#4743e7"/><stop offset=".5252" stop-color="#484ef1"/><stop offset=".5536" stop-color="#465efb"/><stop offset=".5679" stop-color="#426afe"/><stop offset=".5803" stop-color="#3677fe"/><stop offset=".5928" stop-color="#2d87f7"/><stop offset=".5999" stop-color="#2b91ef"/><stop offset=".6124" stop-color="#21a3e3"/><stop offset=".6195" stop-color="#17aeda"/><stop offset=".6266" stop-color="#02b7cb"/><stop offset=".6284" stop-color="#01b9c6"/><stop offset=".6319" stop-color="#0bbdbc"/><stop offset=".6373" stop-color="#26c2ac"/><stop offset=".6462" stop-color="#43ca8b"/><stop offset=".6515" stop-color="#62cd71"/><stop offset=".6604" stop-color="#a0c841"/><stop offset=".6604" stop-color="#2fc5a3"/><stop offset=".9196" stop-color="#34c79c"/><stop offset=".9643" stop-color="#36c898"/><stop offset=".9857" stop-color="#3fca8e"/><stop offset=".9929" stop-color="#4acb85"/><stop offset="1" stop-color="#5ecd74"/></linearGradient><linearGradient id="g31" gradientUnits="userSpaceOnUse" x1="0" y1="29.5" x2="0" y2="590.0"><stop offset="0" stop-color="#0bb4d2"/><stop offset=".1318" stop-color="#01b8ca"/><stop offset=".1834" stop-color="#02bac3"/><stop offset=".2065" stop-color="#08bcbf"/><stop offset=".2243" stop-color="#10beba"/><stop offset=".2528" stop-color="#24c1af"/><stop offset=".2689" stop-color="#2ec4a4"/><stop offset=".2831" stop-color="#38c896"/><stop offset=".2938" stop-color="#48cb86"/><stop offset=".3062" stop-color="#6acd6a"/><stop offset=".3062" stop-color="#4434cf"/><stop offset=".4237" stop-color="#4538d7"/><stop offset=".4985" stop-color="#4741e5"/><stop offset=".5252" stop-color="#4849ed"/><stop offset=".5501" stop-color="#4755f6"/><stop offset=".575" stop-color="#4367fd"/><stop offset=".5874" stop-color="#3975fe"/><stop offset=".5928" stop-color="#327cfc"/><stop offset=".5999" stop-color="#2e85f8"/><stop offset=".6088" stop-color="#2b92ee"/><stop offset=".623" stop-color="#1ea7e1"/><stop offset=".6284" stop-color="#15afd9"/><stop offset=".6337" stop-color="#04b6cc"/><stop offset=".6373" stop-color="#02bbc3"/><stop offset=".6444" stop-color="#25c2ae"/><stop offset=".6533" stop-color="#42ca8c"/><stop offset=".6604" stop-color="#6dcd67"/><stop offset=".6604" stop-color="#10beba"/><stop offset=".9571" stop-color="#25c2ad"/><stop offset=".9839" stop-color="#2dc4a5"/><stop offset=".9929" stop-color="#33c69e"/><stop offset="1" stop-color="#3cc992"/></linearGradient><linearGradient id="g32" gradientUnits="userSpaceOnUse" x1="0" y1="29.5" x2="0" y2="590.0"><stop offset="0" stop-color="#1fa6e1"/><stop offset=".1086" stop-color="#1babde"/><stop offset=".1727" stop-color="#16afd9"/><stop offset=".1976" stop-color="#11b1d6"/><stop offset=".2243" stop-color="#08b4d0"/><stop offset=".2439" stop-color="#01b8ca"/><stop offset=".2582" stop-color="#02bac4"/><stop offset=".2706" stop-color="#0bbdbc"/><stop offset=".2867" stop-color="#24c1af"/><stop offset=".2973" stop-color="#30c5a2"/><stop offset=".3062" stop-color="#3cc992"/><stop offset=".3062" stop-color="#4434ce"/><stop offset=".4202" stop-color="#4536d4"/><stop offset=".5056" stop-color="#4740e4"/><stop offset=".5341" stop-color="#4849ed"/><stop offset=".559" stop-color="#4855f6"/><stop offset=".5839" stop-color="#4368fd"/><stop offset=".5963" stop-color="#3876fe"/><stop offset=".6017" stop-color="#317dfc"/><stop offset=".6088" stop-color="#2e87f7"/><stop offset=".6159" stop-color="#2b91ef"/><stop offset=".6284" stop-color="#20a4e3"/><stop offset=".6355" stop-color="#15afd9"/><stop offset=".6408" stop-color="#04b6cd"/><stop offset=".6426" stop-color="#01b8c8"/><stop offset=".6444" stop-color="#02bbc3"/><stop offset=".6515" stop-color="#25c2ad"/><stop offset=".6586" stop-color="#3bc992"/><stop offset=".6604" stop-color="#43ca8a"/><stop offset=".6604" stop-color="#03b7cb"/><stop offset=".8195" stop-color="#02bac3"/><stop offset=".9428" stop-color="#0bbdbc"/><stop offset=".9768" stop-color="#15bfb7"/><stop offset=".9911" stop-color="#22c1b0"/><stop offset="1" stop-color="#2dc4a6"/></linearGradient><linearGradient id="g33" gradientUnits="userSpaceOnUse" x1="0" y1="29.5" x2="0" y2="590.0"><stop offset="0" stop-color="#259ce7"/><stop offset=".1229" stop-color="#22a1e4"/><stop offset=".2083" stop-color="#1ca9df"/><stop offset=".2475" stop-color="#13b0d7"/><stop offset=".2778" stop-color="#01b8c9"/><stop offset=".2849" stop-color="#02bac4"/><stop offset=".2902" stop-color="#07bcbf"/><stop offset=".3062" stop-color="#26c2ad"/><stop offset=".3062" stop-color="#4433cd"/><stop offset=".4273" stop-color="#4536d3"/><stop offset=".4735" stop-color="#4639da"/><stop offset=".5127" stop-color="#473fe3"/><stop offset=".5412" stop-color="#4848ec"/><stop offset=".5661" stop-color="#4854f5"/><stop offset=".5892" stop-color="#4465fd"/><stop offset=".6035" stop-color="#3875fe"/><stop offset=".6088" stop-color="#327cfc"/><stop offset=".6159" stop-color="#2e86f7"/><stop offset=".623" stop-color="#2b91ef"/><stop offset=".6355" stop-color="#20a4e3"/><stop offset=".6408" stop-color="#19addc"/><stop offset=".648" stop-color="#03b7cc"/><stop offset=".6497" stop-color="#01b9c7"/><stop offset=".6515" stop-color="#04bbc2"/><stop offset=".6569" stop-color="#20c1b1"/><stop offset=".6604" stop-color="#2dc4a5"/><stop offset=".6604" stop-color="#17aeda"/><stop offset=".9428" stop-color="#01b8ca"/><stop offset=".9821" stop-color="#02bac3"/><stop offset=".9946" stop-color="#0bbdbc"/><stop offset="1" stop-color="#16bfb7"/></linearGradient><linearGradient id="g34" gradientUnits="userSpaceOnUse" x1="0" y1="29.5" x2="0" y2="590.0"><stop offset="0" stop-color="#2994ed"/><stop offset=".1513" stop-color="#259ce7"/><stop offset=".2422" stop-color="#1ea7e1"/><stop offset=".2706" stop-color="#16afda"/><stop offset=".2973" stop-color="#01b8c9"/><stop offset=".3027" stop-color="#02bac4"/><stop offset=".3062" stop-color="#06bcc0"/><stop offset=".3062" stop-color="#4433cd"/><stop offset=".4486" stop-color="#4536d4"/><stop offset=".5056" stop-color="#463cde"/><stop offset=".5483" stop-color="#4747eb"/><stop offset=".5732" stop-color="#4853f5"/><stop offset=".5928" stop-color="#4562fc"/><stop offset=".6017" stop-color="#416bfe"/><stop offset=".6106" stop-color="#3875fe"/><stop offset=".6159" stop-color="#317dfc"/><stop offset=".623" stop-color="#2e87f7"/><stop offset=".6302" stop-color="#2b92ee"/><stop offset=".6426" stop-color="#1fa6e2"/><stop offset=".648" stop-color="#17aeda"/><stop offset=".6551" stop-color="#01b8c9"/><stop offset=".6569" stop-color="#02bac4"/><stop offset=".6604" stop-color="#12beb9"/><stop offset=".6604" stop-color="#1da8e0"/><stop offset=".7873" stop-color="#18addb"/><stop offset=".9517" stop-color="#0ab4d1"/><stop offset=".9821" stop-color="#04b6cd"/><stop offset=".9893" stop-color="#01b8ca"/><stop offset="1" stop-color="#03bbc3"/></linearGradient><linearGradient id="g35" gradientUnits="userSpaceOnUse" x1="0" y1="29.5" x2="0" y2="590.0"><stop offset="0" stop-color="#2c8ef1"/><stop offset=".1389" stop-color="#2895ec"/><stop offset=".235" stop-color="#23a0e5"/><stop offset=".2849" stop-color="#19addc"/><stop offset=".2956" stop-color="#12b1d6"/><stop offset=".3062" stop-color="#06b5cf"/><stop offset=".3062" stop-color="#4433cc"/><stop offset=".4557" stop-color="#4536d3"/><stop offset=".5145" stop-color="#463cde"/><stop offset=".5536" stop-color="#4746ea"/><stop offset=".5785" stop-color="#4852f4"/><stop offset=".5999" stop-color="#4562fc"/><stop offset=".6088" stop-color="#416bfe"/><stop offset=".6177" stop-color="#3776fe"/><stop offset=".6284" stop-color="#2e86f7"/><stop offset=".6355" stop-color="#2b91ef"/><stop offset=".648" stop-color="#20a5e3"/><stop offset=".6533" stop-color="#18addb"/><stop offset=".6604" stop-color="#01b8ca"/><stop offset=".6604" stop-color="#22a2e4"/><stop offset=".9482" stop-color="#14b0d8"/><stop offset=".9786" stop-color="#0fb2d4"/><stop offset="1" stop-color="#03b7cc"/></linearGradient><linearGradient id="g36" gradientUnits="userSpaceOnUse" x1="0" y1="29.5" x2="0" y2="590.0"><stop offset="0" stop-color="#2d8cf3"/><stop offset=".1478" stop-color="#2994ed"/><stop offset=".2475" stop-color="#23a0e5"/><stop offset=".2867" stop-color="#1baade"/><stop offset=".3062" stop-color="#10b2d5"/><stop offset=".3062" stop-color="#4433cc"/><stop offset=".4593" stop-color="#4536d2"/><stop offset=".518" stop-color="#463bdd"/><stop offset=".5554" stop-color="#4744e8"/><stop offset=".5803" stop-color="#484ff2"/><stop offset=".6017" stop-color="#465efb"/><stop offset=".6124" stop-color="#4369fe"/><stop offset=".623" stop-color="#3876fe"/><stop offset=".6337" stop-color="#2e85f8"/><stop offset=".6408" stop-color="#2b90f0"/><stop offset=".6515" stop-color="#22a1e4"/><stop offset=".6604" stop-color="#13b0d7"/><stop offset=".6604" stop-color="#249fe5"/><stop offset=".941" stop-color="#18addb"/><stop offset=".9839" stop-color="#13b1d7"/><stop offset="1" stop-color="#0ab4d1"/></linearGradient><linearGradient id="g37" gradientUnits="userSpaceOnUse" x1="0" y1="29.5" x2="0" y2="590.0"><stop offset="0" stop-color="#2d8bf4"/><stop offset=".1389" stop-color="#2b91ef"/><stop offset=".2065" stop-color="#2798ea"/><stop offset=".2653" stop-color="#22a2e4"/><stop offset=".2902" stop-color="#1da9e0"/><stop offset=".3062" stop-color="#15afd9"/><stop offset=".3062" stop-color="#4433cb"/><stop offset=".4629" stop-color="#4535d2"/><stop offset=".5127" stop-color="#4639da"/><stop offset=".5572" stop-color="#4742e7"/><stop offset=".5963" stop-color="#4756f6"/><stop offset=".6124" stop-color="#4563fc"/><stop offset=".6248" stop-color="#3c71ff"/><stop offset=".6319" stop-color="#337bfc"/><stop offset=".6391" stop-color="#2e85f8"/><stop offset=".6462" stop-color="#2b90ef"/><stop offset=".6604" stop-color="#1da8e0"/><stop offset=".6604" stop-color="#259ce7"/><stop offset=".9553" stop-color="#1aacdd"/><stop offset=".9821" stop-color="#17aeda"/><stop offset="1" stop-color="#10b2d5"/></linearGradient><linearGradient id="g38" gradientUnits="userSpaceOnUse" x1="0" y1="29.5" x2="0" y2="590.0"><stop offset="0" stop-color="#2d89f5"/><stop offset=".203" stop-color="#2895ec"/><stop offset=".2689" stop-color="#23a0e5"/><stop offset=".3062" stop-color="#1aacdd"/><stop offset=".3062" stop-color="#4433cb"/><stop offset=".4646" stop-color="#4435d1"/><stop offset=".5163" stop-color="#4539d9"/><stop offset=".559" stop-color="#4741e5"/><stop offset=".5981" stop-color="#4853f5"/><stop offset=".6177" stop-color="#4563fd"/><stop offset=".6284" stop-color="#3e6fff"/><stop offset=".6373" stop-color="#327cfc"/><stop offset=".6426" stop-color="#2e84f9"/><stop offset=".6515" stop-color="#2b91ef"/><stop offset=".6604" stop-color="#23a0e5"/><stop offset=".6604" stop-color="#2698ea"/><stop offset=".9482" stop-color="#1ca9df"/><stop offset=".9857" stop-color="#19acdc"/><stop offset="1" stop-color="#15afd9"/></linearGradient><linearGradient id="g39" gradientUnits="userSpaceOnUse" x1="0" y1="29.5" x2="0" y2="590.0"><stop offset="0" stop-color="#2e87f7"/><stop offset=".203" stop-color="#2a93ed"/><stop offset=".2653" stop-color="#259de7"/><stop offset=".3062" stop-color="#1da9e0"/><stop offset=".3062" stop-color="#4433cb"/><stop offset=".4682" stop-color="#4435d1"/><stop offset=".5198" stop-color="#4538d8"/><stop offset=".5625" stop-color="#4741e5"/><stop offset=".6035" stop-color="#4854f5"/><stop offset=".623" stop-color="#4564fd"/><stop offset=".6337" stop-color="#3d70ff"/><stop offset=".6462" stop-color="#2f82f9"/><stop offset=".6533" stop-color="#2d8df2"/><stop offset=".6604" stop-color="#2699e9"/><stop offset=".6604" stop-color="#2895ec"/><stop offset=".9267" stop-color="#1fa5e2"/><stop offset="1" stop-color="#19addc"/></linearGradient><linearGradient id="g40" gradientUnits="userSpaceOnUse" x1="0" y1="29.5" x2="0" y2="590.0"><stop offset="0" stop-color="#2e85f8"/><stop offset=".1994" stop-color="#2b91ef"/><stop offset=".2635" stop-color="#269ae9"/><stop offset=".3062" stop-color="#1fa5e2"/><stop offset=".3062" stop-color="#4432cb"/><stop offset=".47" stop-color="#4435d0"/><stop offset=".5216" stop-color="#4538d8"/><stop offset=".5625" stop-color="#473fe3"/><stop offset=".6052" stop-color="#4852f4"/><stop offset=".6266" stop-color="#4563fd"/><stop offset=".6373" stop-color="#3e6fff"/><stop offset=".6497" stop-color="#2f81fa"/><stop offset=".6604" stop-color="#2a92ee"/><stop offset=".6604" stop-color="#2b91ef"/><stop offset=".8856" stop-color="#23a0e5"/><stop offset="1" stop-color="#1caadf"/></linearGradient><linearGradient id="g41" gradientUnits="userSpaceOnUse" x1="0" y1="29.5" x2="0" y2="590.0"><stop offset="0" stop-color="#2e85f8"/><stop offset=".1976" stop-color="#2c90f0"/><stop offset=".2635" stop-color="#2699ea"/><stop offset=".3062" stop-color="#21a3e3"/><stop offset=".3062" stop-color="#4432cb"/><stop offset=".47" stop-color="#4434d0"/><stop offset=".5234" stop-color="#4538d7"/><stop offset=".5625" stop-color="#473ee1"/><stop offset=".5928" stop-color="#4849ed"/><stop offset=".6195" stop-color="#4759f8"/><stop offset=".6355" stop-color="#4368fe"/><stop offset=".6444" stop-color="#3a74fe"/><stop offset=".6533" stop-color="#2f81fa"/><stop offset=".6604" stop-color="#2d8cf3"/><stop offset=".6604" stop-color="#2c8ff0"/><stop offset="1" stop-color="#1ea7e1"/></linearGradient><linearGradient id="g42" gradientUnits="userSpaceOnUse" x1="0" y1="29.5" x2="0" y2="590.0"><stop offset="0" stop-color="#2e84f8"/><stop offset=".1959" stop-color="#2c8ff1"/><stop offset=".2617" stop-color="#2797eb"/><stop offset=".3062" stop-color="#22a1e4"/><stop offset=".3062" stop-color="#4332cb"/><stop offset=".4718" stop-color="#4434d0"/><stop offset=".5252" stop-color="#4538d7"/><stop offset=".5643" stop-color="#463ee1"/><stop offset=".5946" stop-color="#4848ec"/><stop offset=".6213" stop-color="#4758f8"/><stop offset=".6337" stop-color="#4563fc"/><stop offset=".6444" stop-color="#3e6fff"/><stop offset=".6533" stop-color="#327cfc"/><stop offset=".6604" stop-color="#2e87f7"/><stop offset=".6604" stop-color="#2d8df2"/><stop offset="1" stop-color="#20a5e3"/></linearGradient><linearGradient id="g43" gradientUnits="userSpaceOnUse" x1="0" y1="29.5" x2="0" y2="590.0"><stop offset="0" stop-color="#2e83f9"/><stop offset=".1941" stop-color="#2c8ef2"/><stop offset=".2582" stop-color="#2895ec"/><stop offset=".3062" stop-color="#23a0e5"/><stop offset=".3062" stop-color="#4332cb"/><stop offset=".4735" stop-color="#4434cf"/><stop offset=".5269" stop-color="#4537d6"/><stop offset=".5643" stop-color="#463de0"/><stop offset=".6017" stop-color="#484aee"/><stop offset=".6319" stop-color="#465efb"/><stop offset=".6444" stop-color="#416bfe"/><stop offset=".6515" stop-color="#3974fe"/><stop offset=".6604" stop-color="#2f82fa"/><stop offset=".6604" stop-color="#2d8bf4"/><stop offset="1" stop-color="#22a2e4"/></linearGradient><linearGradient id="g44" gradientUnits="userSpaceOnUse" x1="0" y1="29.5" x2="0" y2="590.0"><stop offset="0" stop-color="#2e83f9"/><stop offset=".1923" stop-color="#2d8df2"/><stop offset=".2564" stop-color="#2994ed"/><stop offset=".3062" stop-color="#249ee6"/><stop offset=".3062" stop-color="#4332cb"/><stop offset=".4735" stop-color="#4434cf"/><stop offset=".5287" stop-color="#4537d6"/><stop offset=".5643" stop-color="#463cdf"/><stop offset=".6035" stop-color="#4849ed"/><stop offset=".6355" stop-color="#465efb"/><stop offset=".648" stop-color="#416cfe"/><stop offset=".6604" stop-color="#317dfc"/><stop offset=".6604" stop-color="#2d89f5"/><stop offset="1" stop-color="#249fe5"/></linearGradient><linearGradient id="g45" gradientUnits="userSpaceOnUse" x1="0" y1="29.5" x2="0" y2="590.0"><stop offset="0" stop-color="#2f82f9"/><stop offset=".1852" stop-color="#2d8bf3"/><stop offset=".2546" stop-color="#2a93ee"/><stop offset=".3062" stop-color="#259ce7"/><stop offset=".3062" stop-color="#4332cb"/><stop offset=".4735" stop-color="#4434cf"/><stop offset=".5198" stop-color="#4536d4"/><stop offset=".5643" stop-color="#463cde"/><stop offset=".5946" stop-color="#4744e8"/><stop offset=".6213" stop-color="#4852f4"/><stop offset=".648" stop-color="#4368fe"/><stop offset=".6604" stop-color="#3579fd"/><stop offset=".6604" stop-color="#2e87f7"/><stop offset="1" stop-color="#259ce7"/></linearGradient><linearGradient id="g46" gradientUnits="userSpaceOnUse" x1="0" y1="29.5" x2="0" y2="590.0"><stop offset="0" stop-color="#2f82fa"/><stop offset=".1852" stop-color="#2d8bf4"/><stop offset=".2511" stop-color="#2b91ef"/><stop offset=".3062" stop-color="#269be8"/><stop offset=".3062" stop-color="#4332cb"/><stop offset=".4753" stop-color="#4434cf"/><stop offset=".5216" stop-color="#4536d4"/><stop offset=".5661" stop-color="#463cde"/><stop offset=".5963" stop-color="#4744e8"/><stop offset=".6213" stop-color="#4850f3"/><stop offset=".6462" stop-color="#4564fd"/><stop offset=".6551" stop-color="#3f6eff"/><stop offset=".6604" stop-color="#3875fe"/><stop offset=".6604" stop-color="#2e85f8"/><stop offset="1" stop-color="#269ae8"/></linearGradient><linearGradient id="g47" gradientUnits="userSpaceOnUse" x1="0" y1="29.5" x2="0" y2="590.0"><stop offset="0" stop-color="#2f81fa"/><stop offset=".1852" stop-color="#2d8af5"/><stop offset=".2582" stop-color="#2b91ef"/><stop offset=".3062" stop-color="#2699e9"/><stop offset=".3062" stop-color="#4332cb"/><stop offset=".4753" stop-color="#4434cf"/><stop offset=".5216" stop-color="#4536d4"/><stop offset=".5679" stop-color="#463cde"/><stop offset=".5963" stop-color="#4743e7"/><stop offset=".6213" stop-color="#484ff2"/><stop offset=".648" stop-color="#4563fd"/><stop offset=".6604" stop-color="#3b72ff"/><stop offset=".6604" stop-color="#2f83f9"/><stop offset="1" stop-color="#2798ea"/></linearGradient><linearGradient id="g48" gradientUnits="userSpaceOnUse" x1="0" y1="29.5" x2="0" y2="590.0"><stop offset="0" stop-color="#2f80fa"/><stop offset=".1852" stop-color="#2d89f5"/><stop offset=".2635" stop-color="#2b91ef"/><stop offset=".3062" stop-color="#2698ea"/><stop offset=".3062" stop-color="#4332cb"/><stop offset=".4753" stop-color="#4434cf"/><stop offset=".5216" stop-color="#4536d4"/><stop offset=".5679" stop-color="#463bde"/><stop offset=".5963" stop-color="#4743e7"/><stop offset=".6213" stop-color="#484ef1"/><stop offset=".6444" stop-color="#465efb"/><stop offset=".6604" stop-color="#3e6fff"/><stop offset=".6604" stop-color="#2f81fa"/><stop offset="1" stop-color="#2896eb"/></linearGradient><linearGradient id="g49" gradientUnits="userSpaceOnUse" x1="0" y1="29.5" x2="0" y2="590.0"><stop offset="0" stop-color="#3080fb"/><stop offset=".1852" stop-color="#2d88f6"/><stop offset=".2689" stop-color="#2b91ef"/><stop offset=".3062" stop-color="#2797ea"/><stop offset=".3062" stop-color="#4332cb"/><stop offset=".4753" stop-color="#4434cf"/><stop offset=".5216" stop-color="#4536d4"/><stop offset=".5679" stop-color="#463bdd"/><stop offset=".5963" stop-color="#4742e6"/><stop offset=".6213" stop-color="#484df0"/><stop offset=".6462" stop-color="#465efb"/><stop offset=".6604" stop-color="#406dfe"/><stop offset=".6604" stop-color="#307efb"/><stop offset="1" stop-color="#2994ed"/></linearGradient><linearGradient id="g50" gradientUnits="userSpaceOnUse" x1="0" y1="29.5" x2="0" y2="590.0"><stop offset="0" stop-color="#307ffb"/><stop offset=".1852" stop-color="#2d88f6"/><stop offset=".2635" stop-color="#2c8ff0"/><stop offset=".3062" stop-color="#2896eb"/><stop offset=".3062" stop-color="#4332cb"/><stop offset=".4735" stop-color="#4434cf"/><stop offset=".5198" stop-color="#4536d3"/><stop offset=".5661" stop-color="#463bdc"/><stop offset=".5946" stop-color="#4741e5"/><stop offset=".6195" stop-color="#484bef"/><stop offset=".6426" stop-color="#4759f9"/><stop offset=".6604" stop-color="#416bfe"/><stop offset=".6604" stop-color="#327cfc"/><stop offset="1" stop-color="#2b92ee"/></linearGradient><linearGradient id="g51" gradientUnits="userSpaceOnUse" x1="0" y1="29.5" x2="0" y2="590.0"><stop offset="0" stop-color="#307efb"/><stop offset=".1852" stop-color="#2e87f7"/><stop offset=".2546" stop-color="#2c8ef2"/><stop offset=".3062" stop-color="#2895ec"/><stop offset=".3062" stop-color="#4332cb"/><stop offset=".4735" stop-color="#4434ce"/><stop offset=".5198" stop-color="#4536d3"/><stop offset=".5661" stop-color="#463bdc"/><stop offset=".5946" stop-color="#4741e5"/><stop offset=".6195" stop-color="#484aee"/><stop offset=".6426" stop-color="#4758f8"/><stop offset=".6604" stop-color="#4369fe"/><stop offset=".6604" stop-color="#337bfc"/><stop offset="1" stop-color="#2b90ef"/></linearGradient><linearGradient id="g52" gradientUnits="userSpaceOnUse" x1="0" y1="29.5" x2="0" y2="590.0"><stop offset="0" stop-color="#317efb"/><stop offset=".1816" stop-color="#2e86f7"/><stop offset=".3062" stop-color="#2995ec"/><stop offset=".3062" stop-color="#4332cb"/><stop offset=".4735" stop-color="#4434ce"/><stop offset=".5198" stop-color="#4536d3"/><stop offset=".5661" stop-color="#463bdc"/><stop offset=".5963" stop-color="#4741e5"/><stop offset=".6195" stop-color="#484aee"/><stop offset=".6426" stop-color="#4757f7"/><stop offset=".6604" stop-color="#4367fd"/><stop offset=".6604" stop-color="#347afd"/><stop offset=".7766" stop-color="#2f81fa"/><stop offset="1" stop-color="#2c8ff1"/></linearGradient><linearGradient id="g53" gradientUnits="userSpaceOnUse" x1="0" y1="29.5" x2="0" y2="590.0"><stop offset="0" stop-color="#317dfc"/><stop offset=".1816" stop-color="#2e85f8"/><stop offset=".3062" stop-color="#2994ed"/><stop offset=".3062" stop-color="#4332cb"/><stop offset=".4718" stop-color="#4434ce"/><stop offset=".5198" stop-color="#4536d3"/><stop offset=".5643" stop-color="#463adb"/><stop offset=".5946" stop-color="#4740e4"/><stop offset=".6195" stop-color="#4849ed"/><stop offset=".6426" stop-color="#4756f7"/><stop offset=".6604" stop-color="#4466fd"/><stop offset=".6604" stop-color="#3578fd"/><stop offset=".7963" stop-color="#2f81fa"/><stop offset="1" stop-color="#2c8ef2"/></linearGradient><linearGradient id="g54" gradientUnits="userSpaceOnUse" x1="0" y1="29.5" x2="0" y2="590.0"><stop offset="0" stop-color="#327cfc"/><stop offset=".1798" stop-color="#2e85f8"/><stop offset=".3062" stop-color="#2a93ee"/><stop offset=".3062" stop-color="#4332cb"/><stop offset=".4718" stop-color="#4434ce"/><stop offset=".5643" stop-color="#463adb"/><stop offset=".5946" stop-color="#4740e4"/><stop offset=".6195" stop-color="#4849ed"/><stop offset=".6426" stop-color="#4756f6"/><stop offset=".6604" stop-color="#4464fd"/><stop offset=".6604" stop-color="#3777fe"/><stop offset=".8195" stop-color="#2f81fa"/><stop offset="1" stop-color="#2d8cf3"/></linearGradient><linearGradient id="g55" gradientUnits="userSpaceOnUse" x1="0" y1="29.5" x2="0" y2="590.0"><stop offset="0" stop-color="#327cfc"/><stop offset=".1798" stop-color="#2e84f9"/><stop offset=".3062" stop-color="#2b92ee"/><stop offset=".3062" stop-color="#4332cb"/><stop offset=".4718" stop-color="#4434ce"/><stop offset=".5643" stop-color="#463adb"/><stop offset=".6195" stop-color="#4849ed"/><stop offset=".6426" stop-color="#4755f6"/><stop offset=".6604" stop-color="#4563fd"/><stop offset=".6604" stop-color="#3876fe"/><stop offset=".8409" stop-color="#2f81fa"/><stop offset="1" stop-color="#2d8bf4"/></linearGradient><linearGradient id="g56" gradientUnits="userSpaceOnUse" x1="0" y1="29.5" x2="0" y2="590.0"><stop offset="0" stop-color="#337bfd"/><stop offset=".1798" stop-color="#2e83f9"/><stop offset=".3062" stop-color="#2b91ef"/><stop offset=".3062" stop-color="#4332cb"/><stop offset=".47" stop-color="#4434ce"/><stop offset=".5625" stop-color="#463adb"/><stop offset=".6177" stop-color="#4848ec"/><stop offset=".6408" stop-color="#4853f5"/><stop offset=".6604" stop-color="#4562fc"/><stop offset=".6604" stop-color="#3974fe"/><stop offset=".7712" stop-color="#327cfc"/><stop offset="1" stop-color="#2d89f5"/></linearGradient><linearGradient id="g57" gradientUnits="userSpaceOnUse" x1="0" y1="29.5" x2="0" y2="590.0"><stop offset="0" stop-color="#347afd"/><stop offset=".1798" stop-color="#2f83f9"/><stop offset=".3062" stop-color="#2b90f0"/><stop offset=".3062" stop-color="#4332cb"/><stop offset=".47" stop-color="#4434ce"/><stop offset=".5625" stop-color="#463adb"/><stop offset=".6177" stop-color="#4747eb"/><stop offset=".6408" stop-color="#4853f5"/><stop offset=".6604" stop-color="#4562fc"/><stop offset=".6604" stop-color="#3b73fe"/><stop offset=".7945" stop-color="#327cfc"/><stop offset="1" stop-color="#2d88f6"/></linearGradient><linearGradient id="g58" gradientUnits="userSpaceOnUse" x1="0" y1="29.5" x2="0" y2="590.0"><stop offset="0" stop-color="#3479fd"/><stop offset=".1798" stop-color="#2f82fa"/><stop offset=".3062" stop-color="#2c8ff0"/><stop offset=".3062" stop-color="#4332cb"/><stop offset=".47" stop-color="#4434ce"/><stop offset=".5625" stop-color="#463adb"/><stop offset=".6177" stop-color="#4747eb"/><stop offset=".6408" stop-color="#4853f4"/><stop offset=".6604" stop-color="#4561fc"/><stop offset=".6604" stop-color="#3c72ff"/><stop offset=".8177" stop-color="#327cfc"/><stop offset="1" stop-color="#2e86f7"/></linearGradient><linearGradient id="g59" gradientUnits="userSpaceOnUse" x1="0" y1="29.5" x2="0" y2="590.0"><stop offset="0" stop-color="#3578fd"/><stop offset=".1709" stop-color="#2f80fa"/><stop offset=".3062" stop-color="#2c8ff1"/><stop offset=".3062" stop-color="#4332cb"/><stop offset=".4682" stop-color="#4434ce"/><stop offset=".5608" stop-color="#4639da"/><stop offset=".6177" stop-color="#4747eb"/><stop offset=".6408" stop-color="#4852f4"/><stop offset=".6604" stop-color="#4660fc"/><stop offset=".6604" stop-color="#3d70ff"/><stop offset=".8409" stop-color="#327cfc"/><stop offset="1" stop-color="#2e85f8"/></linearGradient><linearGradient id="cb" x1="0" y1="0" x2="0" y2="1"><stop offset="0.0000" stop-color="#f9fb15"/><stop offset="0.0159" stop-color="#f7f51b"/><stop offset="0.0317" stop-color="#f6ef20"/><stop offset="0.0476" stop-color="#f5e924"/><stop offset="0.0635" stop-color="#f5e327"/><stop offset="0.0794" stop-color="#f7dc2a"/><stop offset="0.0952" stop-color="#fad62d"/><stop offset="0.1111" stop-color="#fccf30"/><stop offset="0.1270" stop-color="#fec934"/><stop offset="0.1429" stop-color="#fec338"/><stop offset="0.1587" stop-color="#febe3c"/><stop offset="0.1746" stop-color="#f8ba3d"/><stop offset="0.1905" stop-color="#f0ba36"/><stop offset="0.2063" stop-color="#e6bb2d"/><stop offset="0.2222" stop-color="#dcbd29"/><stop offset="0.2381" stop-color="#d1bf27"/><stop offset="0.2540" stop-color="#c5c22a"/><stop offset="0.2698" stop-color="#b9c431"/><stop offset="0.2857" stop-color="#abc739"/><stop offset="0.3016" stop-color="#9dc943"/><stop offset="0.3175" stop-color="#8fcb4e"/><stop offset="0.3333" stop-color="#81cc59"/><stop offset="0.3492" stop-color="#72cd64"/><stop offset="0.3651" stop-color="#64cd6f"/><stop offset="0.3810" stop-color="#57cc7a"/><stop offset="0.3968" stop-color="#4acb84"/><stop offset="0.4127" stop-color="#3fca8e"/><stop offset="0.4286" stop-color="#37c897"/><stop offset="0.4444" stop-color="#31c69f"/><stop offset="0.4603" stop-color="#2cc4a7"/><stop offset="0.4762" stop-color="#24c1ae"/><stop offset="0.4921" stop-color="#19bfb6"/><stop offset="0.5079" stop-color="#0bbdbd"/><stop offset="0.5238" stop-color="#02bac3"/><stop offset="0.5397" stop-color="#01b8ca"/><stop offset="0.5556" stop-color="#08b5d0"/><stop offset="0.5714" stop-color="#12b1d6"/><stop offset="0.5873" stop-color="#18addb"/><stop offset="0.6032" stop-color="#1ca9df"/><stop offset="0.6190" stop-color="#20a5e3"/><stop offset="0.6349" stop-color="#23a0e5"/><stop offset="0.6508" stop-color="#259be8"/><stop offset="0.6667" stop-color="#2797eb"/><stop offset="0.6825" stop-color="#2b91ef"/><stop offset="0.6984" stop-color="#2d8cf3"/><stop offset="0.7143" stop-color="#2e87f7"/><stop offset="0.7302" stop-color="#2f81fa"/><stop offset="0.7460" stop-color="#327cfc"/><stop offset="0.7619" stop-color="#3875fe"/><stop offset="0.7778" stop-color="#3e6fff"/><stop offset="0.7937" stop-color="#4269fe"/><stop offset="0.8095" stop-color="#4563fd"/><stop offset="0.8254" stop-color="#465efb"/><stop offset="0.8413" stop-color="#4758f8"/><stop offset="0.8571" stop-color="#4852f4"/><stop offset="0.8730" stop-color="#484df0"/><stop offset="0.8889" stop-color="#4747eb"/><stop offset="0.9048" stop-color="#4741e5"/><stop offset="0.9206" stop-color="#463cde"/><stop offset="0.9365" stop-color="#4537d5"/><stop offset="0.9524" stop-color="#4332cb"/><stop offset="0.9683" stop-color="#422ec0"/><stop offset="0.9841" stop-color="#402ab4"/><stop offset="1.0000" stop-color="#3e26a8"/></linearGradient><clipPath id="pc"><rect x="56" y="29.4" width="400" height="560.9"/></clipPath><filter id="bl" x="-2%" y="-2%" width="104%" height="104%"><feGaussianBlur stdDeviation="0.8 0.4"/></filter></defs><rect width="520" height="658" fill="#fff"/><g clip-path="url(#pc)"><g filter="url(#bl)" shape-rendering="crispEdges"><rect x="50.00" y="23" width="12.72" height="574" fill="url(#g0)"/><rect x="62.67" y="23" width="6.72" height="574" fill="url(#g1)"/><rect x="69.33" y="23" width="6.72" height="574" fill="url(#g2)"/><rect x="76.00" y="23" width="6.72" height="574" fill="url(#g3)"/><rect x="82.67" y="23" width="6.72" height="574" fill="url(#g4)"/><rect x="89.33" y="23" width="6.72" height="574" fill="url(#g5)"/><rect x="96.00" y="23" width="6.72" height="574" fill="url(#g6)"/><rect x="102.67" y="23" width="6.72" height="574" fill="url(#g7)"/><rect x="109.33" y="23" width="6.72" height="574" fill="url(#g8)"/><rect x="116.00" y="23" width="6.72" height="574" fill="url(#g9)"/><rect x="122.67" y="23" width="6.72" height="574" fill="url(#g10)"/><rect x="129.33" y="23" width="6.72" height="574" fill="url(#g11)"/><rect x="136.00" y="23" width="6.72" height="574" fill="url(#g12)"/><rect x="142.67" y="23" width="6.72" height="574" fill="url(#g13)"/><rect x="149.33" y="23" width="6.72" height="574" fill="url(#g14)"/><rect x="156.00" y="23" width="6.72" height="574" fill="url(#g15)"/><rect x="162.67" y="23" width="6.72" height="574" fill="url(#g16)"/><rect x="169.33" y="23" width="6.72" height="574" fill="url(#g17)"/><rect x="176.00" y="23" width="6.72" height="574" fill="url(#g18)"/><rect x="182.67" y="23" width="6.72" height="574" fill="url(#g19)"/><rect x="189.33" y="23" width="6.72" height="574" fill="url(#g20)"/><rect x="196.00" y="23" width="6.72" height="574" fill="url(#g21)"/><rect x="202.67" y="23" width="6.72" height="574" fill="url(#g22)"/><rect x="209.33" y="23" width="6.72" height="574" fill="url(#g23)"/><rect x="216.00" y="23" width="6.72" height="574" fill="url(#g24)"/><rect x="222.67" y="23" width="6.72" height="574" fill="url(#g25)"/><rect x="229.33" y="23" width="6.72" height="574" fill="url(#g26)"/><rect x="236.00" y="23" width="6.72" height="574" fill="url(#g27)"/><rect x="242.67" y="23" width="6.72" height="574" fill="url(#g28)"/><rect x="249.33" y="23" width="6.72" height="574" fill="url(#g29)"/><rect x="256.00" y="23" width="6.72" height="574" fill="url(#g30)"/><rect x="262.67" y="23" width="6.72" height="574" fill="url(#g31)"/><rect x="269.33" y="23" width="6.72" height="574" fill="url(#g32)"/><rect x="276.00" y="23" width="6.72" height="574" fill="url(#g33)"/><rect x="282.67" y="23" width="6.72" height="574" fill="url(#g34)"/><rect x="289.33" y="23" width="6.72" height="574" fill="url(#g35)"/><rect x="296.00" y="23" width="6.72" height="574" fill="url(#g36)"/><rect x="302.67" y="23" width="6.72" height="574" fill="url(#g37)"/><rect x="309.33" y="23" width="6.72" height="574" fill="url(#g38)"/><rect x="316.00" y="23" width="6.72" height="574" fill="url(#g39)"/><rect x="322.67" y="23" width="6.72" height="574" fill="url(#g40)"/><rect x="329.33" y="23" width="6.72" height="574" fill="url(#g41)"/><rect x="336.00" y="23" width="6.72" height="574" fill="url(#g42)"/><rect x="342.67" y="23" width="6.72" height="574" fill="url(#g43)"/><rect x="349.33" y="23" width="6.72" height="574" fill="url(#g44)"/><rect x="356.00" y="23" width="6.72" height="574" fill="url(#g45)"/><rect x="362.67" y="23" width="6.72" height="574" fill="url(#g46)"/><rect x="369.33" y="23" width="6.72" height="574" fill="url(#g47)"/><rect x="376.00" y="23" width="6.72" height="574" fill="url(#g48)"/><rect x="382.67" y="23" width="6.72" height="574" fill="url(#g49)"/><rect x="389.33" y="23" width="6.72" height="574" fill="url(#g50)"/><rect x="396.00" y="23" width="6.72" height="574" fill="url(#g51)"/><rect x="402.67" y="23" width="6.72" height="574" fill="url(#g52)"/><rect x="409.33" y="23" width="6.72" height="574" fill="url(#g53)"/><rect x="416.00" y="23" width="6.72" height="574" fill="url(#g54)"/><rect x="422.67" y="23" width="6.72" height="574" fill="url(#g55)"/><rect x="429.33" y="23" width="6.72" height="574" fill="url(#g56)"/><rect x="436.00" y="23" width="6.72" height="574" fill="url(#g57)"/><rect x="442.67" y="23" width="6.72" height="574" fill="url(#g58)"/><rect x="449.33" y="23" width="12.72" height="574" fill="url(#g59)"/></g></g><rect x="56" y="399.2" width="400" height="1" fill="#fff" fill-opacity="0.22"/><line x1="56" x2="456" y1="201.0" y2="201.0" stroke="#000" stroke-width="4" stroke-dasharray="17.4 17.92"/><line x1="56" x2="456" y1="400.0" y2="400.0" stroke="#000" stroke-width="4" stroke-dasharray="17.4 17.92"/><rect x="468.5" y="29.5" width="15" height="560.5" fill="url(#cb)" stroke="#333" stroke-width="0.6"/><line x1="477.8" x2="483.5" y1="544.7" y2="544.7" stroke="#333" stroke-width="0.8"/><text x="490" y="551.7" font-family="Liberation Sans, Arial, Helvetica, sans-serif" font-size="19.3" fill="#111">0.4</text><line x1="477.8" x2="483.5" y1="495.2" y2="495.2" stroke="#333" stroke-width="0.8"/><text x="490" y="502.2" font-family="Liberation Sans, Arial, Helvetica, sans-serif" font-size="19.3" fill="#111">0.5</text><line x1="477.8" x2="483.5" y1="445.7" y2="445.7" stroke="#333" stroke-width="0.8"/><text x="490" y="452.7" font-family="Liberation Sans, Arial, Helvetica, sans-serif" font-size="19.3" fill="#111">0.6</text><line x1="477.8" x2="483.5" y1="396.2" y2="396.2" stroke="#333" stroke-width="0.8"/><text x="490" y="403.2" font-family="Liberation Sans, Arial, Helvetica, sans-serif" font-size="19.3" fill="#111">0.7</text><line x1="477.8" x2="483.5" y1="346.7" y2="346.7" stroke="#333" stroke-width="0.8"/><text x="490" y="353.7" font-family="Liberation Sans, Arial, Helvetica, sans-serif" font-size="19.3" fill="#111">0.8</text><line x1="477.8" x2="483.5" y1="297.2" y2="297.2" stroke="#333" stroke-width="0.8"/><text x="490" y="304.2" font-family="Liberation Sans, Arial, Helvetica, sans-serif" font-size="19.3" fill="#111">0.9</text><line x1="477.8" x2="483.5" y1="247.7" y2="247.7" stroke="#333" stroke-width="0.8"/><text x="490" y="254.7" font-family="Liberation Sans, Arial, Helvetica, sans-serif" font-size="19.3" fill="#111">1</text><line x1="477.8" x2="483.5" y1="198.2" y2="198.2" stroke="#333" stroke-width="0.8"/><text x="490" y="205.2" font-family="Liberation Sans, Arial, Helvetica, sans-serif" font-size="19.3" fill="#111">1.1</text><line x1="477.8" x2="483.5" y1="148.7" y2="148.7" stroke="#333" stroke-width="0.8"/><text x="490" y="155.7" font-family="Liberation Sans, Arial, Helvetica, sans-serif" font-size="19.3" fill="#111">1.2</text><line x1="477.8" x2="483.5" y1="99.2" y2="99.2" stroke="#333" stroke-width="0.8"/><text x="490" y="106.2" font-family="Liberation Sans, Arial, Helvetica, sans-serif" font-size="19.3" fill="#111">1.3</text><line x1="477.8" x2="483.5" y1="49.7" y2="49.7" stroke="#333" stroke-width="0.8"/><text x="490" y="56.7" font-family="Liberation Sans, Arial, Helvetica, sans-serif" font-size="19.3" fill="#111">1.4</text><text x="49" y="597.2" font-family="Liberation Sans, Arial, Helvetica, sans-serif" font-size="19.3" fill="#111" text-anchor="end">0</text><text x="49" y="550.5" font-family="Liberation Sans, Arial, Helvetica, sans-serif" font-size="19.3" fill="#111" text-anchor="end">6</text><text x="49" y="503.8" font-family="Liberation Sans, Arial, Helvetica, sans-serif" font-size="19.3" fill="#111" text-anchor="end">12</text><text x="49" y="457.1" font-family="Liberation Sans, Arial, Helvetica, sans-serif" font-size="19.3" fill="#111" text-anchor="end">18</text><text x="49" y="410.4" font-family="Liberation Sans, Arial, Helvetica, sans-serif" font-size="19.3" fill="#111" text-anchor="end">24</text><text x="49" y="363.7" font-family="Liberation Sans, Arial, Helvetica, sans-serif" font-size="19.3" fill="#111" text-anchor="end">30</text><text x="49" y="316.9" font-family="Liberation Sans, Arial, Helvetica, sans-serif" font-size="19.3" fill="#111" text-anchor="end">36</text><text x="49" y="270.2" font-family="Liberation Sans, Arial, Helvetica, sans-serif" font-size="19.3" fill="#111" text-anchor="end">42</text><text x="49" y="223.5" font-family="Liberation Sans, Arial, Helvetica, sans-serif" font-size="19.3" fill="#111" text-anchor="end">48</text><text x="49" y="176.8" font-family="Liberation Sans, Arial, Helvetica, sans-serif" font-size="19.3" fill="#111" text-anchor="end">54</text><text x="49" y="130.1" font-family="Liberation Sans, Arial, Helvetica, sans-serif" font-size="19.3" fill="#111" text-anchor="end">60</text><text x="49" y="83.4" font-family="Liberation Sans, Arial, Helvetica, sans-serif" font-size="19.3" fill="#111" text-anchor="end">66</text><text x="49" y="36.7" font-family="Liberation Sans, Arial, Helvetica, sans-serif" font-size="19.3" fill="#111" text-anchor="end">72</text><text x="56.0" y="615.2" font-family="Liberation Sans, Arial, Helvetica, sans-serif" font-size="19.3" fill="#111" text-anchor="middle">-3</text><text x="122.7" y="615.2" font-family="Liberation Sans, Arial, Helvetica, sans-serif" font-size="19.3" fill="#111" text-anchor="middle">-2</text><text x="189.3" y="615.2" font-family="Liberation Sans, Arial, Helvetica, sans-serif" font-size="19.3" fill="#111" text-anchor="middle">-1</text><text x="256.0" y="615.2" font-family="Liberation Sans, Arial, Helvetica, sans-serif" font-size="19.3" fill="#111" text-anchor="middle">0</text><text x="322.7" y="615.2" font-family="Liberation Sans, Arial, Helvetica, sans-serif" font-size="19.3" fill="#111" text-anchor="middle">1</text><text x="389.3" y="615.2" font-family="Liberation Sans, Arial, Helvetica, sans-serif" font-size="19.3" fill="#111" text-anchor="middle">2</text><text x="456.0" y="615.2" font-family="Liberation Sans, Arial, Helvetica, sans-serif" font-size="19.3" fill="#111" text-anchor="middle">3</text><text transform="translate(20.8,310.5) rotate(-90)" font-family="Liberation Sans, Arial, Helvetica, sans-serif" font-size="21.9" fill="#111" text-anchor="middle">Time [hours]</text><text x="221.5" y="642.2" font-family="Liberation Sans, Arial, Helvetica, sans-serif" font-size="21" fill="#111">V<tspan font-size="17.8" dy="11.5" dx="-0.3">TG</tspan><tspan dy="-11.5" dx="-0.3" letter-spacing="-0.3"> [V]</tspan></text><text x="475" y="17.7" font-family="Liberation Sans, Arial, Helvetica, sans-serif" font-size="19" fill="#111" text-anchor="middle">R [kΩ]</text><text x="89.3" y="99.2" font-family="Liberation Sans, Arial, Helvetica, sans-serif" font-weight="bold" fill="#fff" font-size="20.4" text-anchor="middle">(iii)</text><text x="89.1" y="286.7" font-family="Liberation Sans, Arial, Helvetica, sans-serif" font-weight="bold" fill="#fff" font-size="20.4" text-anchor="middle">(ii)</text><text x="89" y="474.2" font-family="Liberation Sans, Arial, Helvetica, sans-serif" font-weight="bold" fill="#fff" font-size="20.4" text-anchor="middle">(i)</text><text x="348.7" y="87.0" font-family="Liberation Sans, Arial, Helvetica, sans-serif" font-weight="bold" fill="#fff" font-size="14.85" text-anchor="middle">Back gate is grounded</text><text x="348.7" y="108.2" font-family="Liberation Sans, Arial, Helvetica, sans-serif" font-weight="bold" fill="#fff" font-size="14.85" text-anchor="middle">With e<tspan font-size="10.5" dy="-6">+</tspan><tspan dy="6"> source</tspan></text><text x="348.7" y="273.8" font-family="Liberation Sans, Arial, Helvetica, sans-serif" font-weight="bold" fill="#fff" font-size="14.85" text-anchor="middle">Back gate is floating</text><text x="348.7" y="295.0" font-family="Liberation Sans, Arial, Helvetica, sans-serif" font-weight="bold" fill="#fff" font-size="14.85" text-anchor="middle">With e<tspan font-size="10.5" dy="-6">+</tspan><tspan dy="6"> source</tspan></text><text x="348.7" y="460.8" font-family="Liberation Sans, Arial, Helvetica, sans-serif" font-weight="bold" fill="#fff" font-size="14.85" text-anchor="middle">Back gate is grounded</text><text x="348.7" y="482.0" font-family="Liberation Sans, Arial, Helvetica, sans-serif" font-weight="bold" fill="#fff" font-size="14.85" text-anchor="middle">No e<tspan font-size="10.5" dy="-6">+</tspan><tspan dy="6"> source</tspan></text></svg></body></html>
